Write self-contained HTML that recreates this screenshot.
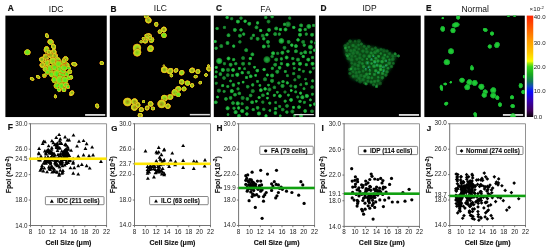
<!DOCTYPE html>
<html lang="en">
<head>
<meta charset="utf-8">
<title>Fpol of breast cell types</title>
<style>
html,body{margin:0;padding:0;background:#fff;}
body{width:550px;height:251px;overflow:hidden;font-family:"Liberation Sans",Arial,sans-serif;}
svg{display:block;}
</style>
</head>
<body>
<svg width="550" height="251" viewBox="0 0 550 251" font-family='"Liberation Sans", Arial, sans-serif'>
<defs>
<radialGradient id="gy">
<stop offset="0" stop-color="#7cd01c"/>
<stop offset="0.45" stop-color="#a4d41c"/>
<stop offset="0.72" stop-color="#ccd81c"/>
<stop offset="0.88" stop-color="#d08c10"/>
<stop offset="0.96" stop-color="#b85008" stop-opacity="0.8"/>
<stop offset="1" stop-color="#502000" stop-opacity="0"/>
</radialGradient>
<radialGradient id="gyg">
<stop offset="0" stop-color="#58ea1e"/>
<stop offset="0.55" stop-color="#86e01c"/>
<stop offset="0.8" stop-color="#c0c818"/>
<stop offset="0.92" stop-color="#d0800a" stop-opacity="0.9"/>
<stop offset="1" stop-color="#502000" stop-opacity="0"/>
</radialGradient>
<radialGradient id="gyy">
<stop offset="0" stop-color="#8aa416"/>
<stop offset="0.35" stop-color="#a0b81a"/>
<stop offset="0.62" stop-color="#d2da20"/>
<stop offset="0.8" stop-color="#d8bc1a"/>
<stop offset="0.92" stop-color="#c46a0c" stop-opacity="0.85"/>
<stop offset="1" stop-color="#402000" stop-opacity="0"/>
</radialGradient>
<filter id="soft" x="-5%" y="-5%" width="110%" height="110%"><feGaussianBlur stdDeviation="0.35"/></filter>
<filter id="soft2" x="-20%" y="-20%" width="140%" height="140%"><feGaussianBlur stdDeviation="1.6"/></filter>
<radialGradient id="gg">
<stop offset="0" stop-color="#22d238"/>
<stop offset="0.6" stop-color="#1cc030"/>
<stop offset="0.85" stop-color="#12902a" stop-opacity="0.9"/>
<stop offset="1" stop-color="#063010" stop-opacity="0"/>
</radialGradient>
<radialGradient id="gc">
<stop offset="0" stop-color="#34c66c"/>
<stop offset="0.4" stop-color="#22c03e"/>
<stop offset="0.7" stop-color="#169a2c" stop-opacity="0.92"/>
<stop offset="1" stop-color="#042808" stop-opacity="0"/>
</radialGradient>
<radialGradient id="gd">
<stop offset="0" stop-color="#30c450"/>
<stop offset="0.5" stop-color="#20a83a"/>
<stop offset="0.85" stop-color="#107826" stop-opacity="0.85"/>
<stop offset="1" stop-color="#042808" stop-opacity="0"/>
</radialGradient>
<radialGradient id="gdb">
<stop offset="0" stop-color="#18902c" stop-opacity="0.95"/>
<stop offset="0.7" stop-color="#127826" stop-opacity="0.8"/>
<stop offset="1" stop-color="#042808" stop-opacity="0"/>
</radialGradient>
<linearGradient id="cbar" x1="0" y1="0" x2="0" y2="1">
<stop offset="0" stop-color="#ff2200"/>
<stop offset="0.12" stop-color="#ff5a00"/>
<stop offset="0.25" stop-color="#ff9c00"/>
<stop offset="0.36" stop-color="#ffc400"/>
<stop offset="0.41" stop-color="#ffe000"/>
<stop offset="0.45" stop-color="#f8fc00"/>
<stop offset="0.475" stop-color="#90e40c"/>
<stop offset="0.505" stop-color="#34d418"/>
<stop offset="0.58" stop-color="#18a820"/>
<stop offset="0.65" stop-color="#107858"/>
<stop offset="0.70" stop-color="#1048c0"/>
<stop offset="0.75" stop-color="#0808ff"/>
<stop offset="0.84" stop-color="#3400b0"/>
<stop offset="0.93" stop-color="#400060"/>
<stop offset="1" stop-color="#080008"/>
</linearGradient>

<clipPath id="clipA"><rect x="5.4" y="15.6" width="101.35" height="101.45"/></clipPath>
<clipPath id="clipB"><rect x="109.8" y="15.6" width="100.90" height="101.45"/></clipPath>
<clipPath id="clipC"><rect x="213.8" y="15.6" width="101.65" height="101.45"/></clipPath>
<clipPath id="clipD"><rect x="319.0" y="15.6" width="101.75" height="101.45"/></clipPath>
<clipPath id="clipE"><rect x="424.35" y="15.6" width="100.45" height="101.45"/></clipPath>
</defs>
<rect width="550" height="251" fill="#ffffff"/>
<text x="7.8" y="11.15" font-size="8.3" font-weight="bold" fill="#111" stroke="#111" stroke-width="0.2">A</text>
<text x="110.6" y="11.6" font-size="8.3" font-weight="bold" fill="#111" stroke="#111" stroke-width="0.2">B</text>
<text x="216.1" y="10.75" font-size="8.3" font-weight="bold" fill="#111" stroke="#111" stroke-width="0.2">C</text>
<text x="320.6" y="10.9" font-size="8.3" font-weight="bold" fill="#111" stroke="#111" stroke-width="0.2">D</text>
<text x="426.0" y="11.25" font-size="8.3" font-weight="bold" fill="#111" stroke="#111" stroke-width="0.2">E</text>
<text x="56.1" y="11.55" font-size="8.5" text-anchor="middle" fill="#111" style="font-kerning:none">IDC</text>
<text x="160.4" y="10.6" font-size="8.5" text-anchor="middle" fill="#111" style="font-kerning:none">ILC</text>
<text x="265.6" y="11.6" font-size="8.5" text-anchor="middle" fill="#111" style="font-kerning:none">FA</text>
<text x="369.5" y="11.4" font-size="8.5" text-anchor="middle" fill="#111" style="font-kerning:none">IDP</text>
<text x="475.2" y="11.55" font-size="8.5" text-anchor="middle" fill="#111" style="font-kerning:none">Normal</text>
<rect x="5.4" y="15.6" width="101.35" height="101.45" fill="#000"/>
<g clip-path="url(#clipA)"><g filter="url(#soft)">
<ellipse cx="46.9" cy="35.7" rx="2.2" ry="3.0" fill="url(#gyy)" transform="rotate(-20 46.9 35.7)"/>
<ellipse cx="27.4" cy="52.3" rx="3.6" ry="3.4" fill="url(#gyg)"/>
<ellipse cx="50.6" cy="42.0" rx="3.6" ry="3.2" fill="url(#gy)" transform="rotate(20 50.6 42.0)"/>
<ellipse cx="53.5" cy="46.5" rx="2.8" ry="3.6" fill="url(#gyy)" transform="rotate(-20 53.5 46.5)"/>
<ellipse cx="46.5" cy="49.5" rx="3.2" ry="3.8" fill="url(#gy)" transform="rotate(10 46.5 49.5)"/>
<ellipse cx="52.7" cy="53.5" rx="4.2" ry="4.0" fill="url(#gy)"/>
<ellipse cx="45.6" cy="56.8" rx="3.4" ry="3.4" fill="url(#gyg)"/>
<ellipse cx="65.1" cy="58.5" rx="2.4" ry="3.2" fill="url(#gyy)" transform="rotate(25 65.1 58.5)"/>
<ellipse cx="74.3" cy="64.2" rx="3.6" ry="2.6" fill="url(#gyy)" transform="rotate(15 74.3 64.2)"/>
<ellipse cx="101.8" cy="63.1" rx="2.6" ry="2.4" fill="url(#gyy)" transform="rotate(20 101.8 63.1)"/>
<ellipse cx="32.1" cy="78.9" rx="2.8" ry="2.0" fill="url(#gyy)" transform="rotate(20 32.1 78.9)"/>
<ellipse cx="38.2" cy="76.9" rx="2.8" ry="2.0" fill="url(#gyy)" transform="rotate(30 38.2 76.9)"/>
<ellipse cx="44.4" cy="75.6" rx="2.6" ry="2.4" fill="url(#gyg)"/>
<ellipse cx="71.6" cy="93.2" rx="2.4" ry="3.6" fill="url(#gyy)" transform="rotate(25 71.6 93.2)"/>
<ellipse cx="55.3" cy="96.4" rx="1.9" ry="2.4" fill="url(#gyy)"/>
<ellipse cx="97.2" cy="106.0" rx="2.4" ry="3.0" fill="url(#gyy)" transform="rotate(-20 97.2 106.0)"/>
<circle cx="46.0" cy="57.0" r="3.1" fill="#86c41a"/>
<circle cx="50.9" cy="55.0" r="2.9" fill="#86c41a"/>
<circle cx="54.9" cy="56.0" r="2.7" fill="#86c41a"/>
<circle cx="47.0" cy="62.9" r="2.9" fill="#86c41a"/>
<circle cx="52.9" cy="61.0" r="3.3" fill="#86c41a"/>
<circle cx="57.9" cy="60.0" r="2.7" fill="#86c41a"/>
<circle cx="60.9" cy="63.9" r="2.7" fill="#86c41a"/>
<circle cx="65.9" cy="59.0" r="2.2" fill="#86c41a"/>
<circle cx="49.9" cy="68.9" r="3.1" fill="#86c41a"/>
<circle cx="54.9" cy="66.9" r="3.3" fill="#86c41a"/>
<circle cx="59.9" cy="68.9" r="2.9" fill="#86c41a"/>
<circle cx="64.9" cy="66.9" r="2.2" fill="#86c41a"/>
<circle cx="68.9" cy="67.9" r="1.8" fill="#86c41a"/>
<circle cx="51.9" cy="73.9" r="3.1" fill="#86c41a"/>
<circle cx="56.9" cy="73.9" r="3.6" fill="#86c41a"/>
<circle cx="61.9" cy="74.9" r="3.1" fill="#86c41a"/>
<circle cx="66.9" cy="73.9" r="2.2" fill="#86c41a"/>
<circle cx="54.9" cy="79.9" r="3.1" fill="#86c41a"/>
<circle cx="59.9" cy="79.9" r="3.6" fill="#86c41a"/>
<circle cx="64.9" cy="79.9" r="2.9" fill="#86c41a"/>
<circle cx="68.9" cy="77.9" r="2.0" fill="#86c41a"/>
<circle cx="56.9" cy="85.9" r="2.9" fill="#86c41a"/>
<circle cx="61.9" cy="85.9" r="3.1" fill="#86c41a"/>
<circle cx="65.9" cy="84.9" r="2.5" fill="#86c41a"/>
<circle cx="67.9" cy="86.9" r="1.8" fill="#86c41a"/>
<circle cx="58.9" cy="89.8" r="2.0" fill="#86c41a"/>
<circle cx="63.9" cy="89.8" r="2.0" fill="#86c41a"/>
<circle cx="71.9" cy="92.8" r="2.0" fill="#86c41a"/>
<circle cx="55.5" cy="96.8" r="1.3" fill="#86c41a"/>
<circle cx="44.4" cy="75.9" r="1.6" fill="#86c41a"/>
<circle cx="48.9" cy="52.0" r="2.2" fill="#86c41a"/>
<circle cx="53.9" cy="51.6" r="2.2" fill="#86c41a"/>
<circle cx="44.0" cy="60.0" r="2.2" fill="#86c41a"/>
<circle cx="62.9" cy="70.9" r="2.7" fill="#86c41a"/>
<circle cx="58.5" cy="63.9" r="2.9" fill="#86c41a"/>
<circle cx="41.8" cy="59.4" r="2.5" fill="#86c41a"/>
<circle cx="42.4" cy="64.9" r="2.7" fill="#86c41a"/>
<circle cx="45.2" cy="68.9" r="2.5" fill="#86c41a"/>
<circle cx="64.1" cy="60.8" r="2.5" fill="#86c41a"/>
<circle cx="66.9" cy="64.9" r="2.5" fill="#86c41a"/>
<circle cx="64.1" cy="67.5" r="2.7" fill="#86c41a"/>
<circle cx="69.7" cy="71.7" r="2.2" fill="#86c41a"/>
<circle cx="71.1" cy="77.3" r="2.0" fill="#86c41a"/>
<circle cx="47.4" cy="72.3" r="2.0" fill="#86c41a"/>
<ellipse cx="46.0" cy="57.0" rx="3.9" ry="3.8" fill="url(#gyy)" transform="rotate(101 46.0 57.0)"/>
<ellipse cx="50.9" cy="55.0" rx="3.7" ry="4.0" fill="url(#gyy)" transform="rotate(84 50.9 55.0)"/>
<ellipse cx="54.9" cy="56.0" rx="3.4" ry="3.3" fill="url(#gyy)" transform="rotate(106 54.9 56.0)"/>
<ellipse cx="47.0" cy="62.9" rx="3.7" ry="3.3" fill="url(#gy)" transform="rotate(92 47.0 62.9)"/>
<ellipse cx="52.9" cy="61.0" rx="4.2" ry="4.2" fill="url(#gy)" transform="rotate(143 52.9 61.0)"/>
<ellipse cx="57.9" cy="60.0" rx="3.4" ry="3.0" fill="url(#gy)" transform="rotate(55 57.9 60.0)"/>
<ellipse cx="60.9" cy="63.9" rx="3.4" ry="3.0" fill="url(#gyg)" transform="rotate(146 60.9 63.9)"/>
<ellipse cx="65.9" cy="59.0" rx="2.9" ry="3.0" fill="url(#gy)" transform="rotate(8 65.9 59.0)"/>
<ellipse cx="49.9" cy="68.9" rx="3.9" ry="4.3" fill="url(#gyg)" transform="rotate(174 49.9 68.9)"/>
<ellipse cx="54.9" cy="66.9" rx="4.2" ry="4.2" fill="url(#gyg)" transform="rotate(111 54.9 66.9)"/>
<ellipse cx="59.9" cy="68.9" rx="3.7" ry="3.3" fill="url(#gyg)" transform="rotate(3 59.9 68.9)"/>
<ellipse cx="64.9" cy="66.9" rx="2.9" ry="2.8" fill="url(#gyg)" transform="rotate(11 64.9 66.9)"/>
<ellipse cx="68.9" cy="67.9" rx="2.4" ry="2.1" fill="url(#gy)" transform="rotate(44 68.9 67.9)"/>
<ellipse cx="51.9" cy="73.9" rx="3.9" ry="3.4" fill="url(#gyg)" transform="rotate(84 51.9 73.9)"/>
<ellipse cx="56.9" cy="73.9" rx="4.4" ry="4.3" fill="url(#gyg)" transform="rotate(152 56.9 73.9)"/>
<ellipse cx="61.9" cy="74.9" rx="3.9" ry="3.8" fill="url(#gyg)" transform="rotate(115 61.9 74.9)"/>
<ellipse cx="66.9" cy="73.9" rx="2.9" ry="2.8" fill="url(#gyg)" transform="rotate(119 66.9 73.9)"/>
<ellipse cx="54.9" cy="79.9" rx="3.9" ry="3.8" fill="url(#gyg)" transform="rotate(50 54.9 79.9)"/>
<ellipse cx="59.9" cy="79.9" rx="4.4" ry="4.9" fill="url(#gyg)" transform="rotate(179 59.9 79.9)"/>
<ellipse cx="64.9" cy="79.9" rx="3.7" ry="3.9" fill="url(#gyg)" transform="rotate(127 64.9 79.9)"/>
<ellipse cx="68.9" cy="77.9" rx="2.6" ry="2.4" fill="url(#gyg)" transform="rotate(41 68.9 77.9)"/>
<ellipse cx="56.9" cy="85.9" rx="3.7" ry="3.4" fill="url(#gyg)" transform="rotate(13 56.9 85.9)"/>
<ellipse cx="61.9" cy="85.9" rx="3.9" ry="4.1" fill="url(#gyg)" transform="rotate(72 61.9 85.9)"/>
<ellipse cx="65.9" cy="84.9" rx="3.1" ry="3.3" fill="url(#gy)" transform="rotate(70 65.9 84.9)"/>
<ellipse cx="67.9" cy="86.9" rx="2.4" ry="2.6" fill="url(#gy)" transform="rotate(153 67.9 86.9)"/>
<ellipse cx="58.9" cy="89.8" rx="2.6" ry="2.2" fill="url(#gy)" transform="rotate(38 58.9 89.8)"/>
<ellipse cx="63.9" cy="89.8" rx="2.6" ry="2.8" fill="url(#gy)" transform="rotate(85 63.9 89.8)"/>
<ellipse cx="71.9" cy="92.8" rx="2.6" ry="2.9" fill="url(#gyy)" transform="rotate(72 71.9 92.8)"/>
<ellipse cx="55.5" cy="96.8" rx="1.9" ry="1.6" fill="url(#gyy)" transform="rotate(113 55.5 96.8)"/>
<ellipse cx="44.4" cy="75.9" rx="2.1" ry="2.2" fill="url(#gy)" transform="rotate(49 44.4 75.9)"/>
<ellipse cx="48.9" cy="52.0" rx="2.9" ry="2.5" fill="url(#gyy)" transform="rotate(60 48.9 52.0)"/>
<ellipse cx="53.9" cy="51.6" rx="2.9" ry="3.2" fill="url(#gyy)" transform="rotate(136 53.9 51.6)"/>
<ellipse cx="44.0" cy="60.0" rx="2.9" ry="2.5" fill="url(#gyy)" transform="rotate(44 44.0 60.0)"/>
<ellipse cx="62.9" cy="70.9" rx="3.4" ry="3.0" fill="url(#gyg)" transform="rotate(11 62.9 70.9)"/>
<ellipse cx="58.5" cy="63.9" rx="3.7" ry="3.8" fill="url(#gyg)" transform="rotate(32 58.5 63.9)"/>
<ellipse cx="41.8" cy="59.4" rx="3.1" ry="3.1" fill="url(#gyy)" transform="rotate(81 41.8 59.4)"/>
<ellipse cx="42.4" cy="64.9" rx="3.4" ry="3.1" fill="url(#gyy)" transform="rotate(132 42.4 64.9)"/>
<ellipse cx="45.2" cy="68.9" rx="3.1" ry="2.8" fill="url(#gy)" transform="rotate(116 45.2 68.9)"/>
<ellipse cx="64.1" cy="60.8" rx="3.1" ry="2.8" fill="url(#gy)" transform="rotate(76 64.1 60.8)"/>
<ellipse cx="66.9" cy="64.9" rx="3.1" ry="2.8" fill="url(#gy)" transform="rotate(49 66.9 64.9)"/>
<ellipse cx="64.1" cy="67.5" rx="3.4" ry="3.7" fill="url(#gyg)" transform="rotate(145 64.1 67.5)"/>
<ellipse cx="69.7" cy="71.7" rx="2.9" ry="2.7" fill="url(#gy)" transform="rotate(159 69.7 71.7)"/>
<ellipse cx="71.1" cy="77.3" rx="2.6" ry="2.4" fill="url(#gy)" transform="rotate(71 71.1 77.3)"/>
<ellipse cx="47.4" cy="72.3" rx="2.6" ry="2.8" fill="url(#gyg)" transform="rotate(116 47.4 72.3)"/>
<circle cx="62.4" cy="64.4" r="0.54" fill="#f0a010" opacity="0.8"/>
<circle cx="66.1" cy="66.4" r="0.48" fill="#e06808" opacity="0.8"/>
<circle cx="50.2" cy="72.9" r="0.58" fill="#d85a06" opacity="0.8"/>
<circle cx="45.2" cy="76.8" r="0.75" fill="#e88a0c" opacity="0.8"/>
<circle cx="63.8" cy="65.9" r="0.74" fill="#e88a0c" opacity="0.8"/>
<circle cx="61.6" cy="73.0" r="0.69" fill="#e88a0c" opacity="0.8"/>
<circle cx="68.9" cy="85.9" r="0.47" fill="#f0a010" opacity="0.8"/>
<circle cx="63.4" cy="64.6" r="0.71" fill="#e88a0c" opacity="0.8"/>
<circle cx="58.8" cy="91.7" r="0.55" fill="#f0a010" opacity="0.8"/>
<circle cx="66.8" cy="66.0" r="0.53" fill="#e88a0c" opacity="0.8"/>
<circle cx="40.6" cy="57.7" r="0.55" fill="#e06808" opacity="0.8"/>
<circle cx="51.9" cy="72.1" r="0.61" fill="#f0a010" opacity="0.8"/>
<circle cx="48.8" cy="63.5" r="0.48" fill="#e88a0c" opacity="0.8"/>
<circle cx="52.3" cy="67.0" r="0.66" fill="#e88a0c" opacity="0.8"/>
<circle cx="48.9" cy="55.3" r="0.79" fill="#d85a06" opacity="0.8"/>
<circle cx="49.6" cy="54.0" r="0.71" fill="#e06808" opacity="0.8"/>
<circle cx="69.6" cy="78.8" r="0.64" fill="#f0a010" opacity="0.8"/>
<circle cx="56.8" cy="54.6" r="0.73" fill="#e88a0c" opacity="0.8"/>
<circle cx="55.5" cy="87.8" r="0.75" fill="#e06808" opacity="0.8"/>
<circle cx="64.9" cy="89.5" r="0.65" fill="#f0a010" opacity="0.8"/>
<circle cx="66.0" cy="63.5" r="0.66" fill="#e06808" opacity="0.8"/>
<circle cx="59.2" cy="60.8" r="0.76" fill="#d85a06" opacity="0.8"/>
<circle cx="55.0" cy="87.5" r="0.60" fill="#f0a010" opacity="0.8"/>
<circle cx="60.7" cy="65.2" r="0.56" fill="#e06808" opacity="0.8"/>
<circle cx="56.2" cy="60.2" r="0.62" fill="#e06808" opacity="0.8"/>
<circle cx="65.9" cy="63.4" r="0.58" fill="#e06808" opacity="0.8"/>
<circle cx="54.0" cy="65.0" r="0.71" fill="#e88a0c" opacity="0.8"/>
<circle cx="55.8" cy="84.1" r="0.56" fill="#e88a0c" opacity="0.8"/>
<circle cx="71.0" cy="78.9" r="0.76" fill="#e88a0c" opacity="0.8"/>
<circle cx="68.2" cy="88.5" r="0.50" fill="#e88a0c" opacity="0.8"/>
<circle cx="52.7" cy="53.3" r="0.70" fill="#e06808" opacity="0.8"/>
<circle cx="55.7" cy="78.2" r="0.55" fill="#f0a010" opacity="0.8"/>
<circle cx="53.0" cy="72.0" r="0.69" fill="#f0a010" opacity="0.8"/>
<circle cx="65.5" cy="65.4" r="0.55" fill="#e06808" opacity="0.8"/>
<circle cx="66.1" cy="61.3" r="0.56" fill="#d85a06" opacity="0.8"/>
<circle cx="44.0" cy="65.1" r="0.52" fill="#f0a010" opacity="0.8"/>
<circle cx="55.1" cy="81.7" r="0.79" fill="#e06808" opacity="0.8"/>
<circle cx="64.2" cy="59.6" r="0.79" fill="#d85a06" opacity="0.8"/>
<circle cx="47.9" cy="74.0" r="0.51" fill="#d85a06" opacity="0.8"/>
<circle cx="46.0" cy="54.6" r="0.51" fill="#e06808" opacity="0.8"/>
<circle cx="55.4" cy="77.5" r="0.59" fill="#e88a0c" opacity="0.8"/>
<circle cx="59.8" cy="75.7" r="0.50" fill="#f0a010" opacity="0.8"/>
<circle cx="44.8" cy="77.3" r="0.58" fill="#e06808" opacity="0.8"/>
<circle cx="41.2" cy="63.3" r="0.61" fill="#d85a06" opacity="0.8"/>
<circle cx="70.9" cy="71.6" r="0.52" fill="#e06808" opacity="0.8"/>
<circle cx="69.6" cy="86.6" r="0.54" fill="#d85a06" opacity="0.8"/>
<circle cx="50.0" cy="56.3" r="0.57" fill="#f0a010" opacity="0.8"/>
<circle cx="64.1" cy="88.3" r="0.53" fill="#e06808" opacity="0.8"/>
<circle cx="59.9" cy="68.9" r="0.71" fill="#3cf020" opacity="0.8"/>
<circle cx="67.9" cy="68.1" r="0.86" fill="#3cf020" opacity="0.8"/>
<circle cx="68.2" cy="86.3" r="0.88" fill="#3cf020" opacity="0.8"/>
<circle cx="65.1" cy="84.4" r="0.80" fill="#3cf020" opacity="0.8"/>
<circle cx="61.4" cy="85.8" r="0.79" fill="#3cf020" opacity="0.8"/>
<circle cx="50.5" cy="73.7" r="0.72" fill="#3cf020" opacity="0.8"/>
<circle cx="54.2" cy="78.5" r="0.85" fill="#3cf020" opacity="0.8"/>
<circle cx="56.8" cy="74.2" r="0.72" fill="#3cf020" opacity="0.8"/>
<circle cx="66.7" cy="73.8" r="0.71" fill="#3cf020" opacity="0.8"/>
<circle cx="68.2" cy="86.9" r="0.72" fill="#3cf020" opacity="0.8"/>
<circle cx="54.2" cy="66.9" r="0.82" fill="#3cf020" opacity="0.8"/>
<circle cx="64.0" cy="89.9" r="0.57" fill="#3cf020" opacity="0.8"/>
<circle cx="57.9" cy="90.1" r="0.82" fill="#3cf020" opacity="0.8"/>
<circle cx="68.8" cy="78.4" r="0.55" fill="#3cf020" opacity="0.8"/>
<circle cx="58.1" cy="85.0" r="0.87" fill="#3cf020" opacity="0.8"/>
<circle cx="67.8" cy="87.0" r="0.75" fill="#3cf020" opacity="0.8"/>
<circle cx="67.5" cy="74.6" r="0.51" fill="#3cf020" opacity="0.8"/>
<circle cx="56.9" cy="73.9" r="0.61" fill="#3cf020" opacity="0.8"/>
<circle cx="64.9" cy="80.7" r="0.70" fill="#3cf020" opacity="0.8"/>
<circle cx="64.3" cy="90.2" r="0.60" fill="#3cf020" opacity="0.8"/>
<circle cx="56.4" cy="72.3" r="0.51" fill="#3cf020" opacity="0.8"/>
<circle cx="57.3" cy="85.0" r="0.72" fill="#3cf020" opacity="0.8"/>
<circle cx="58.5" cy="89.4" r="0.84" fill="#3cf020" opacity="0.8"/>
<circle cx="64.0" cy="89.6" r="0.80" fill="#3cf020" opacity="0.8"/>
<circle cx="65.3" cy="79.6" r="0.63" fill="#3cf020" opacity="0.8"/>
<circle cx="57.3" cy="75.8" r="0.86" fill="#3cf020" opacity="0.8"/>
<circle cx="69.0" cy="67.8" r="0.54" fill="#3cf020" opacity="0.8"/>
<circle cx="69.6" cy="78.4" r="0.67" fill="#3cf020" opacity="0.8"/>
<circle cx="69.0" cy="68.5" r="0.82" fill="#3cf020" opacity="0.8"/>
<circle cx="65.1" cy="67.7" r="0.86" fill="#3cf020" opacity="0.8"/>
</g>
<rect x="85.1" y="114.0" width="20.1" height="1.85" fill="#d8d8d8"/>
</g>
<rect x="109.8" y="15.6" width="100.90" height="101.45" fill="#000"/>
<g clip-path="url(#clipB)"><g filter="url(#soft)">
<ellipse cx="148.4" cy="20.2" rx="3.6" ry="3.7" fill="url(#gyy)" transform="rotate(134 148.4 20.2)"/>
<ellipse cx="146.3" cy="16.0" rx="2.9" ry="3.0" fill="url(#gyy)" transform="rotate(133 146.3 16.0)"/>
<ellipse cx="156.3" cy="24.3" rx="2.9" ry="2.5" fill="url(#gyy)" transform="rotate(84 156.3 24.3)"/>
<ellipse cx="163.9" cy="29.5" rx="3.2" ry="3.3" fill="url(#gyy)" transform="rotate(162 163.9 29.5)"/>
<circle cx="163.9" cy="29.1" r="0.72" fill="#d05a0a" opacity="0.6"/>
<ellipse cx="159.8" cy="31.6" rx="2.6" ry="2.6" fill="url(#gyy)" transform="rotate(2 159.8 31.6)"/>
<ellipse cx="163.9" cy="35.3" rx="3.2" ry="3.0" fill="url(#gyg)" transform="rotate(50 163.9 35.3)"/>
<ellipse cx="148.4" cy="36.8" rx="4.0" ry="4.2" fill="url(#gyy)" transform="rotate(29 148.4 36.8)"/>
<ellipse cx="151.5" cy="39.9" rx="3.5" ry="3.1" fill="url(#gy)" transform="rotate(111 151.5 39.9)"/>
<circle cx="150.7" cy="40.5" r="0.58" fill="#d05a0a" opacity="0.6"/>
<ellipse cx="145.3" cy="40.9" rx="3.2" ry="3.0" fill="url(#gyy)" transform="rotate(177 145.3 40.9)"/>
<ellipse cx="141.1" cy="41.8" rx="2.0" ry="1.9" fill="url(#gyy)" transform="rotate(173 141.1 41.8)"/>
<ellipse cx="137.0" cy="48.0" rx="4.7" ry="4.6" fill="url(#gy)" transform="rotate(122 137.0 48.0)"/>
<circle cx="137.7" cy="48.3" r="0.89" fill="#d05a0a" opacity="0.6"/>
<ellipse cx="137.3" cy="52.6" rx="4.2" ry="4.5" fill="url(#gy)" transform="rotate(54 137.3 52.6)"/>
<circle cx="136.8" cy="52.0" r="0.53" fill="#d05a0a" opacity="0.6"/>
<ellipse cx="150.5" cy="48.6" rx="3.9" ry="3.6" fill="url(#gy)" transform="rotate(109 150.5 48.6)"/>
<circle cx="150.8" cy="48.3" r="0.62" fill="#d05a0a" opacity="0.6"/>
<ellipse cx="163.9" cy="65.8" rx="1.6" ry="1.6" fill="url(#gyy)" transform="rotate(87 163.9 65.8)"/>
<ellipse cx="208.5" cy="65.8" rx="1.8" ry="1.7" fill="url(#gyy)" transform="rotate(87 208.5 65.8)"/>
<ellipse cx="164.4" cy="69.7" rx="3.9" ry="3.9" fill="url(#gyy)" transform="rotate(10 164.4 69.7)"/>
<ellipse cx="170.2" cy="71.1" rx="3.9" ry="3.4" fill="url(#gyy)" transform="rotate(135 170.2 71.1)"/>
<ellipse cx="176.0" cy="70.4" rx="2.9" ry="2.5" fill="url(#gyy)" transform="rotate(142 176.0 70.4)"/>
<circle cx="176.1" cy="69.6" r="0.52" fill="#d05a0a" opacity="0.6"/>
<ellipse cx="171.4" cy="75.7" rx="2.2" ry="2.1" fill="url(#gyy)" transform="rotate(172 171.4 75.7)"/>
<ellipse cx="181.7" cy="72.7" rx="3.2" ry="3.0" fill="url(#gy)" transform="rotate(136 181.7 72.7)"/>
<ellipse cx="192.1" cy="70.4" rx="3.2" ry="3.5" fill="url(#gyy)" transform="rotate(62 192.1 70.4)"/>
<circle cx="192.1" cy="70.8" r="0.54" fill="#d05a0a" opacity="0.6"/>
<ellipse cx="197.9" cy="71.5" rx="2.9" ry="2.9" fill="url(#gyy)" transform="rotate(144 197.9 71.5)"/>
<ellipse cx="195.6" cy="76.6" rx="2.5" ry="2.2" fill="url(#gyy)" transform="rotate(170 195.6 76.6)"/>
<ellipse cx="208.8" cy="68.8" rx="3.2" ry="2.9" fill="url(#gyy)" transform="rotate(61 208.8 68.8)"/>
<circle cx="209.5" cy="68.5" r="0.87" fill="#d05a0a" opacity="0.6"/>
<ellipse cx="206.0" cy="75.0" rx="2.2" ry="2.2" fill="url(#gyy)" transform="rotate(56 206.0 75.0)"/>
<ellipse cx="181.7" cy="81.9" rx="3.2" ry="3.1" fill="url(#gy)" transform="rotate(32 181.7 81.9)"/>
<circle cx="181.1" cy="82.2" r="0.90" fill="#d05a0a" opacity="0.6"/>
<ellipse cx="187.5" cy="83.1" rx="3.2" ry="3.0" fill="url(#gy)" transform="rotate(9 187.5 83.1)"/>
<ellipse cx="192.1" cy="85.4" rx="2.6" ry="2.6" fill="url(#gyy)" transform="rotate(73 192.1 85.4)"/>
<ellipse cx="200.2" cy="82.6" rx="2.2" ry="2.1" fill="url(#gyy)" transform="rotate(107 200.2 82.6)"/>
<ellipse cx="178.3" cy="88.9" rx="3.2" ry="3.4" fill="url(#gy)" transform="rotate(82 178.3 88.9)"/>
<circle cx="177.6" cy="89.6" r="0.51" fill="#d05a0a" opacity="0.6"/>
<ellipse cx="184.0" cy="88.9" rx="2.9" ry="2.8" fill="url(#gy)" transform="rotate(151 184.0 88.9)"/>
<circle cx="184.4" cy="89.6" r="0.75" fill="#d05a0a" opacity="0.6"/>
<ellipse cx="174.8" cy="92.3" rx="3.6" ry="3.8" fill="url(#gy)" transform="rotate(19 174.8 92.3)"/>
<circle cx="174.2" cy="92.9" r="0.62" fill="#d05a0a" opacity="0.6"/>
<ellipse cx="178.3" cy="94.6" rx="2.9" ry="2.8" fill="url(#gyg)" transform="rotate(180 178.3 94.6)"/>
<ellipse cx="170.2" cy="97.0" rx="3.2" ry="3.5" fill="url(#gy)" transform="rotate(82 170.2 97.0)"/>
<circle cx="170.6" cy="97.0" r="0.62" fill="#d05a0a" opacity="0.6"/>
<ellipse cx="164.4" cy="98.1" rx="3.9" ry="3.7" fill="url(#gy)" transform="rotate(26 164.4 98.1)"/>
<circle cx="165.2" cy="98.8" r="0.75" fill="#d05a0a" opacity="0.6"/>
<ellipse cx="161.7" cy="103.9" rx="4.8" ry="4.8" fill="url(#gyy)" transform="rotate(61 161.7 103.9)"/>
<circle cx="161.3" cy="104.4" r="0.85" fill="#d05a0a" opacity="0.6"/>
<ellipse cx="167.9" cy="106.2" rx="3.2" ry="3.1" fill="url(#gyy)" transform="rotate(141 167.9 106.2)"/>
<ellipse cx="150.6" cy="103.9" rx="3.2" ry="3.3" fill="url(#gyy)" transform="rotate(120 150.6 103.9)"/>
<ellipse cx="147.1" cy="108.0" rx="2.9" ry="2.7" fill="url(#gyy)" transform="rotate(127 147.1 108.0)"/>
<circle cx="147.1" cy="108.4" r="0.78" fill="#d05a0a" opacity="0.6"/>
<ellipse cx="152.9" cy="108.5" rx="2.5" ry="2.3" fill="url(#gyy)" transform="rotate(170 152.9 108.5)"/>
<ellipse cx="127.5" cy="102.0" rx="4.8" ry="4.9" fill="url(#gyy)" transform="rotate(105 127.5 102.0)"/>
<circle cx="127.6" cy="101.6" r="0.77" fill="#d05a0a" opacity="0.6"/>
<ellipse cx="134.4" cy="101.6" rx="3.9" ry="3.7" fill="url(#gyy)" transform="rotate(147 134.4 101.6)"/>
<circle cx="134.9" cy="101.4" r="0.76" fill="#d05a0a" opacity="0.6"/>
<ellipse cx="134.4" cy="107.3" rx="3.9" ry="4.0" fill="url(#gyy)" transform="rotate(149 134.4 107.3)"/>
<circle cx="134.9" cy="107.9" r="0.78" fill="#d05a0a" opacity="0.6"/>
<ellipse cx="137.9" cy="105.0" rx="3.0" ry="3.3" fill="url(#gyy)" transform="rotate(172 137.9 105.0)"/>
<circle cx="137.9" cy="104.5" r="0.83" fill="#d05a0a" opacity="0.6"/>
<ellipse cx="141.3" cy="109.7" rx="2.9" ry="3.0" fill="url(#gyy)" transform="rotate(86 141.3 109.7)"/>
<circle cx="141.7" cy="110.1" r="0.57" fill="#d05a0a" opacity="0.6"/>
<ellipse cx="140.2" cy="115.4" rx="2.9" ry="3.0" fill="url(#gyy)" transform="rotate(105 140.2 115.4)"/>
<circle cx="140.1" cy="115.6" r="0.81" fill="#d05a0a" opacity="0.6"/>
<ellipse cx="143.6" cy="101.6" rx="1.9" ry="1.9" fill="url(#gyy)" transform="rotate(130 143.6 101.6)"/>
<ellipse cx="146.9" cy="35.9" rx="2.9" ry="2.5" fill="url(#gy)" transform="rotate(29 146.9 35.9)"/>
<circle cx="147.1" cy="35.5" r="0.77" fill="#d05a0a" opacity="0.6"/>
<ellipse cx="150.2" cy="38.0" rx="2.6" ry="2.7" fill="url(#gyy)" transform="rotate(8 150.2 38.0)"/>
<ellipse cx="143.5" cy="38.8" rx="2.2" ry="2.2" fill="url(#gyy)" transform="rotate(41 143.5 38.8)"/>
</g>
<rect x="189.8" y="113.9" width="20.1" height="1.5" fill="#d8d8d8"/>
</g>
<rect x="213.8" y="15.6" width="101.65" height="101.45" fill="#000"/>
<g clip-path="url(#clipC)"><g filter="url(#soft)">
<ellipse cx="227.1" cy="17.5" rx="2.2" ry="2.2" fill="url(#gc)" opacity="0.96"/>
<ellipse cx="231.7" cy="18.7" rx="2.2" ry="2.2" fill="url(#gc)" opacity="0.68"/>
<ellipse cx="241.0" cy="18.1" rx="2.2" ry="2.2" fill="url(#gc)" opacity="0.73"/>
<ellipse cx="265.8" cy="17.5" rx="2.2" ry="2.2" fill="url(#gc)" opacity="0.78"/>
<ellipse cx="289.7" cy="18.1" rx="2.2" ry="2.2" fill="url(#gc)" opacity="0.66"/>
<ellipse cx="272.1" cy="16.7" rx="2.2" ry="2.2" fill="url(#gc)" opacity="0.81"/>
<ellipse cx="237.9" cy="21.6" rx="2.5" ry="2.5" fill="url(#gc)" opacity="0.94"/>
<ellipse cx="245.1" cy="21.2" rx="2.2" ry="2.2" fill="url(#gc)" opacity="0.98"/>
<ellipse cx="249.3" cy="23.7" rx="2.5" ry="2.5" fill="url(#gc)" opacity="0.88"/>
<ellipse cx="257.6" cy="22.9" rx="2.2" ry="2.2" fill="url(#gc)" opacity="0.90"/>
<ellipse cx="268.5" cy="21.6" rx="2.5" ry="2.5" fill="url(#gc)" opacity="0.67"/>
<ellipse cx="288.0" cy="24.3" rx="3.5" ry="3.5" fill="url(#gc)" opacity="0.69"/>
<ellipse cx="284.5" cy="24.3" rx="2.2" ry="2.2" fill="url(#gc)" opacity="0.82"/>
<ellipse cx="301.1" cy="25.4" rx="2.5" ry="2.5" fill="url(#gc)" opacity="0.82"/>
<ellipse cx="308.8" cy="26.4" rx="3.0" ry="3.0" fill="url(#gc)" opacity="0.87"/>
<ellipse cx="313.5" cy="25.4" rx="2.2" ry="2.2" fill="url(#gc)" opacity="0.77"/>
<ellipse cx="217.1" cy="28.5" rx="2.2" ry="2.2" fill="url(#gc)" opacity="0.86"/>
<ellipse cx="224.4" cy="27.4" rx="2.2" ry="2.2" fill="url(#gc)" opacity="0.69"/>
<ellipse cx="234.8" cy="29.9" rx="2.5" ry="2.5" fill="url(#gc)" opacity="0.86"/>
<ellipse cx="241.0" cy="29.9" rx="2.2" ry="2.2" fill="url(#gc)" opacity="0.87"/>
<ellipse cx="256.5" cy="27.4" rx="2.5" ry="2.5" fill="url(#gc)" opacity="0.78"/>
<ellipse cx="260.7" cy="30.5" rx="2.2" ry="2.2" fill="url(#gc)" opacity="0.98"/>
<ellipse cx="269.0" cy="29.9" rx="2.5" ry="2.5" fill="url(#gc)" opacity="0.89"/>
<ellipse cx="276.2" cy="28.5" rx="2.5" ry="2.5" fill="url(#gc)" opacity="0.85"/>
<ellipse cx="280.4" cy="29.5" rx="2.2" ry="2.2" fill="url(#gc)" opacity="0.95"/>
<ellipse cx="285.5" cy="29.5" rx="2.5" ry="2.5" fill="url(#gc)" opacity="0.90"/>
<ellipse cx="293.8" cy="27.4" rx="2.2" ry="2.2" fill="url(#gc)" opacity="0.95"/>
<ellipse cx="300.0" cy="29.9" rx="2.5" ry="2.5" fill="url(#gc)" opacity="0.96"/>
<ellipse cx="305.2" cy="29.5" rx="2.2" ry="2.2" fill="url(#gc)" opacity="0.82"/>
<ellipse cx="228.5" cy="35.3" rx="2.5" ry="2.5" fill="url(#gc)" opacity="0.84"/>
<ellipse cx="239.9" cy="35.7" rx="2.5" ry="2.5" fill="url(#gc)" opacity="0.78"/>
<ellipse cx="243.7" cy="34.1" rx="2.2" ry="2.2" fill="url(#gc)" opacity="0.84"/>
<ellipse cx="253.4" cy="35.3" rx="2.2" ry="2.2" fill="url(#gc)" opacity="0.81"/>
<ellipse cx="262.7" cy="35.7" rx="2.5" ry="2.5" fill="url(#gc)" opacity="0.68"/>
<ellipse cx="266.9" cy="34.7" rx="2.2" ry="2.2" fill="url(#gc)" opacity="0.99"/>
<ellipse cx="275.2" cy="34.1" rx="2.5" ry="2.5" fill="url(#gc)" opacity="0.76"/>
<ellipse cx="279.3" cy="34.1" rx="2.2" ry="2.2" fill="url(#gc)" opacity="0.76"/>
<ellipse cx="300.0" cy="34.7" rx="2.5" ry="2.5" fill="url(#gc)" opacity="0.95"/>
<ellipse cx="306.3" cy="34.1" rx="2.2" ry="2.2" fill="url(#gc)" opacity="0.76"/>
<ellipse cx="312.1" cy="34.7" rx="2.5" ry="2.5" fill="url(#gc)" opacity="0.86"/>
<ellipse cx="251.3" cy="38.2" rx="2.2" ry="2.2" fill="url(#gc)" opacity="0.70"/>
<ellipse cx="257.6" cy="38.8" rx="2.5" ry="2.5" fill="url(#gc)" opacity="0.78"/>
<ellipse cx="263.8" cy="38.8" rx="2.2" ry="2.2" fill="url(#gc)" opacity="0.86"/>
<ellipse cx="215.1" cy="41.5" rx="2.2" ry="2.2" fill="url(#gc)" opacity="0.94"/>
<ellipse cx="227.5" cy="43.0" rx="2.5" ry="2.5" fill="url(#gc)" opacity="0.83"/>
<ellipse cx="239.9" cy="41.9" rx="2.2" ry="2.2" fill="url(#gc)" opacity="0.69"/>
<ellipse cx="267.9" cy="41.9" rx="2.5" ry="2.5" fill="url(#gc)" opacity="0.83"/>
<ellipse cx="281.4" cy="40.9" rx="3.5" ry="3.5" fill="url(#gc)" opacity="0.93"/>
<ellipse cx="288.6" cy="41.9" rx="2.5" ry="2.5" fill="url(#gc)" opacity="0.74"/>
<ellipse cx="298.0" cy="39.9" rx="2.2" ry="2.2" fill="url(#gc)" opacity="0.94"/>
<ellipse cx="303.2" cy="41.9" rx="2.5" ry="2.5" fill="url(#gc)" opacity="0.68"/>
<ellipse cx="311.4" cy="41.9" rx="2.2" ry="2.2" fill="url(#gc)" opacity="0.85"/>
<ellipse cx="315.6" cy="43.0" rx="2.2" ry="2.2" fill="url(#gc)" opacity="0.78"/>
<ellipse cx="221.3" cy="46.1" rx="2.5" ry="2.5" fill="url(#gc)" opacity="0.72"/>
<ellipse cx="233.7" cy="46.1" rx="2.2" ry="2.2" fill="url(#gc)" opacity="0.91"/>
<ellipse cx="263.8" cy="46.5" rx="2.5" ry="2.5" fill="url(#gc)" opacity="0.92"/>
<ellipse cx="268.5" cy="46.1" rx="2.2" ry="2.2" fill="url(#gc)" opacity="0.72"/>
<ellipse cx="284.5" cy="47.7" rx="2.5" ry="2.5" fill="url(#gc)" opacity="0.70"/>
<ellipse cx="291.8" cy="45.1" rx="2.2" ry="2.2" fill="url(#gc)" opacity="0.98"/>
<ellipse cx="295.9" cy="46.1" rx="2.5" ry="2.5" fill="url(#gc)" opacity="0.92"/>
<ellipse cx="304.2" cy="45.1" rx="2.2" ry="2.2" fill="url(#gc)" opacity="0.83"/>
<ellipse cx="310.4" cy="47.1" rx="3.0" ry="3.0" fill="url(#gc)" opacity="0.91"/>
<ellipse cx="216.1" cy="48.2" rx="2.2" ry="2.2" fill="url(#gc)" opacity="0.85"/>
<ellipse cx="246.2" cy="50.2" rx="2.5" ry="2.5" fill="url(#gc)" opacity="0.79"/>
<ellipse cx="252.4" cy="54.4" rx="2.5" ry="2.5" fill="url(#gc)" opacity="0.86"/>
<ellipse cx="273.1" cy="53.3" rx="2.5" ry="2.5" fill="url(#gc)" opacity="0.98"/>
<ellipse cx="277.7" cy="53.3" rx="2.2" ry="2.2" fill="url(#gc)" opacity="0.67"/>
<ellipse cx="282.4" cy="52.7" rx="2.5" ry="2.5" fill="url(#gc)" opacity="0.89"/>
<ellipse cx="288.0" cy="51.3" rx="2.2" ry="2.2" fill="url(#gc)" opacity="0.84"/>
<ellipse cx="295.9" cy="51.3" rx="2.5" ry="2.5" fill="url(#gc)" opacity="0.82"/>
<ellipse cx="301.1" cy="53.3" rx="2.2" ry="2.2" fill="url(#gc)" opacity="0.80"/>
<ellipse cx="305.2" cy="52.3" rx="2.5" ry="2.5" fill="url(#gc)" opacity="0.86"/>
<ellipse cx="310.4" cy="52.3" rx="2.2" ry="2.2" fill="url(#gc)" opacity="0.78"/>
<ellipse cx="314.6" cy="50.2" rx="2.2" ry="2.2" fill="url(#gc)" opacity="0.91"/>
<ellipse cx="219.2" cy="61.0" rx="3.8" ry="3.8" fill="url(#gc)" opacity="0.95"/>
<ellipse cx="228.5" cy="58.5" rx="2.5" ry="2.5" fill="url(#gc)" opacity="0.96"/>
<ellipse cx="233.7" cy="59.6" rx="2.2" ry="2.2" fill="url(#gc)" opacity="0.85"/>
<ellipse cx="243.1" cy="58.1" rx="2.5" ry="2.5" fill="url(#gc)" opacity="0.68"/>
<ellipse cx="250.3" cy="58.5" rx="2.2" ry="2.2" fill="url(#gc)" opacity="0.98"/>
<ellipse cx="266.9" cy="59.6" rx="4.2" ry="4.2" fill="url(#gc)" opacity="0.79"/>
<ellipse cx="272.1" cy="56.5" rx="2.2" ry="2.2" fill="url(#gc)" opacity="0.72"/>
<ellipse cx="276.2" cy="59.6" rx="2.5" ry="2.5" fill="url(#gc)" opacity="0.73"/>
<ellipse cx="281.4" cy="58.9" rx="2.2" ry="2.2" fill="url(#gc)" opacity="0.82"/>
<ellipse cx="286.6" cy="57.5" rx="2.5" ry="2.5" fill="url(#gc)" opacity="0.92"/>
<ellipse cx="292.8" cy="58.5" rx="2.2" ry="2.2" fill="url(#gc)" opacity="0.78"/>
<ellipse cx="298.0" cy="59.6" rx="2.5" ry="2.5" fill="url(#gc)" opacity="0.78"/>
<ellipse cx="303.2" cy="56.5" rx="2.2" ry="2.2" fill="url(#gc)" opacity="0.94"/>
<ellipse cx="308.3" cy="59.6" rx="2.5" ry="2.5" fill="url(#gc)" opacity="0.92"/>
<ellipse cx="312.5" cy="57.5" rx="2.2" ry="2.2" fill="url(#gc)" opacity="0.77"/>
<ellipse cx="224.4" cy="63.7" rx="2.2" ry="2.2" fill="url(#gc)" opacity="0.69"/>
<ellipse cx="230.6" cy="64.7" rx="2.5" ry="2.5" fill="url(#gc)" opacity="0.83"/>
<ellipse cx="235.8" cy="63.7" rx="2.2" ry="2.2" fill="url(#gc)" opacity="0.81"/>
<ellipse cx="243.1" cy="63.7" rx="2.5" ry="2.5" fill="url(#gc)" opacity="0.74"/>
<ellipse cx="249.3" cy="63.7" rx="2.2" ry="2.2" fill="url(#gc)" opacity="0.76"/>
<ellipse cx="275.2" cy="64.7" rx="2.5" ry="2.5" fill="url(#gc)" opacity="0.78"/>
<ellipse cx="281.4" cy="63.7" rx="2.2" ry="2.2" fill="url(#gc)" opacity="0.80"/>
<ellipse cx="287.6" cy="64.7" rx="2.5" ry="2.5" fill="url(#gc)" opacity="0.99"/>
<ellipse cx="293.8" cy="63.7" rx="2.2" ry="2.2" fill="url(#gc)" opacity="0.88"/>
<ellipse cx="300.0" cy="63.7" rx="2.5" ry="2.5" fill="url(#gc)" opacity="0.97"/>
<ellipse cx="306.3" cy="64.7" rx="2.2" ry="2.2" fill="url(#gc)" opacity="0.86"/>
<ellipse cx="312.5" cy="63.7" rx="2.5" ry="2.5" fill="url(#gc)" opacity="0.99"/>
<ellipse cx="239.3" cy="93.4" rx="2.4" ry="2.4" fill="url(#gc)" opacity="0.78"/>
<ellipse cx="262.9" cy="95.3" rx="2.4" ry="2.4" fill="url(#gc)" opacity="0.74"/>
<ellipse cx="238.9" cy="115.8" rx="2.4" ry="2.4" fill="url(#gc)" opacity="0.91"/>
<ellipse cx="230.6" cy="97.9" rx="2.4" ry="2.4" fill="url(#gc)" opacity="0.79"/>
<ellipse cx="254.5" cy="67.2" rx="1.9" ry="1.9" fill="url(#gc)" opacity="0.89"/>
<ellipse cx="293.5" cy="107.3" rx="2.1" ry="2.1" fill="url(#gc)" opacity="0.97"/>
<ellipse cx="262.8" cy="102.1" rx="2.2" ry="2.2" fill="url(#gc)" opacity="0.66"/>
<ellipse cx="286.9" cy="112.1" rx="2.2" ry="2.2" fill="url(#gc)" opacity="0.80"/>
<ellipse cx="288.3" cy="95.1" rx="2.0" ry="2.0" fill="url(#gc)" opacity="0.84"/>
<ellipse cx="303.4" cy="71.3" rx="2.0" ry="2.0" fill="url(#gc)" opacity="0.69"/>
<ellipse cx="265.0" cy="79.3" rx="2.6" ry="2.6" fill="url(#gc)" opacity="0.69"/>
<ellipse cx="259.1" cy="97.5" rx="2.1" ry="2.1" fill="url(#gc)" opacity="0.94"/>
<ellipse cx="257.6" cy="107.8" rx="2.4" ry="2.4" fill="url(#gc)" opacity="0.82"/>
<ellipse cx="250.6" cy="95.5" rx="2.4" ry="2.4" fill="url(#gc)" opacity="0.74"/>
<ellipse cx="238.7" cy="83.2" rx="1.9" ry="1.9" fill="url(#gc)" opacity="0.86"/>
<ellipse cx="301.1" cy="115.6" rx="2.6" ry="2.6" fill="url(#gc)" opacity="0.93"/>
<ellipse cx="285.1" cy="101.1" rx="2.1" ry="2.1" fill="url(#gc)" opacity="0.85"/>
<ellipse cx="312.0" cy="111.3" rx="2.4" ry="2.4" fill="url(#gc)" opacity="0.68"/>
<ellipse cx="225.9" cy="98.9" rx="2.4" ry="2.4" fill="url(#gc)" opacity="0.82"/>
<ellipse cx="242.2" cy="72.7" rx="2.2" ry="2.2" fill="url(#gc)" opacity="0.93"/>
<ellipse cx="230.6" cy="81.0" rx="1.9" ry="1.9" fill="url(#gc)" opacity="0.82"/>
<ellipse cx="287.3" cy="82.9" rx="2.1" ry="2.1" fill="url(#gc)" opacity="0.91"/>
<ellipse cx="266.0" cy="115.9" rx="2.1" ry="2.1" fill="url(#gc)" opacity="0.99"/>
<ellipse cx="216.2" cy="71.9" rx="2.0" ry="2.0" fill="url(#gc)" opacity="0.83"/>
<ellipse cx="312.6" cy="80.9" rx="2.1" ry="2.1" fill="url(#gc)" opacity="0.86"/>
<ellipse cx="246.9" cy="114.0" rx="2.2" ry="2.2" fill="url(#gc)" opacity="0.90"/>
<ellipse cx="253.2" cy="109.6" rx="2.2" ry="2.2" fill="url(#gc)" opacity="0.82"/>
<ellipse cx="279.9" cy="96.0" rx="2.4" ry="2.4" fill="url(#gc)" opacity="0.95"/>
<ellipse cx="242.6" cy="97.9" rx="2.6" ry="2.6" fill="url(#gc)" opacity="0.66"/>
<ellipse cx="267.6" cy="93.6" rx="1.9" ry="1.9" fill="url(#gc)" opacity="0.96"/>
<ellipse cx="294.3" cy="115.4" rx="2.1" ry="2.1" fill="url(#gc)" opacity="0.73"/>
<ellipse cx="217.5" cy="97.0" rx="1.9" ry="1.9" fill="url(#gc)" opacity="0.98"/>
<ellipse cx="278.9" cy="83.0" rx="2.1" ry="2.1" fill="url(#gc)" opacity="0.78"/>
<ellipse cx="246.5" cy="77.5" rx="2.1" ry="2.1" fill="url(#gc)" opacity="0.87"/>
<ellipse cx="285.3" cy="71.5" rx="2.1" ry="2.1" fill="url(#gc)" opacity="0.81"/>
<ellipse cx="310.4" cy="99.9" rx="2.0" ry="2.0" fill="url(#gc)" opacity="0.85"/>
<ellipse cx="304.0" cy="88.8" rx="2.0" ry="2.0" fill="url(#gc)" opacity="0.76"/>
<ellipse cx="294.2" cy="68.2" rx="2.0" ry="2.0" fill="url(#gc)" opacity="0.75"/>
<ellipse cx="247.0" cy="107.9" rx="2.4" ry="2.4" fill="url(#gc)" opacity="0.78"/>
<ellipse cx="279.7" cy="106.4" rx="2.1" ry="2.1" fill="url(#gc)" opacity="0.72"/>
<ellipse cx="274.4" cy="87.4" rx="2.4" ry="2.4" fill="url(#gc)" opacity="0.71"/>
<ellipse cx="294.9" cy="79.9" rx="2.1" ry="2.1" fill="url(#gc)" opacity="0.65"/>
<ellipse cx="272.3" cy="68.3" rx="2.2" ry="2.2" fill="url(#gc)" opacity="0.79"/>
<ellipse cx="258.9" cy="113.5" rx="2.6" ry="2.6" fill="url(#gc)" opacity="0.93"/>
<ellipse cx="237.7" cy="103.4" rx="2.6" ry="2.6" fill="url(#gc)" opacity="0.94"/>
<ellipse cx="269.9" cy="110.5" rx="1.9" ry="1.9" fill="url(#gc)" opacity="0.86"/>
<ellipse cx="295.8" cy="91.9" rx="2.0" ry="2.0" fill="url(#gc)" opacity="0.79"/>
<ellipse cx="305.2" cy="111.0" rx="2.4" ry="2.4" fill="url(#gc)" opacity="0.93"/>
<ellipse cx="228.0" cy="114.6" rx="1.9" ry="1.9" fill="url(#gc)" opacity="0.73"/>
<ellipse cx="250.7" cy="76.3" rx="2.4" ry="2.4" fill="url(#gc)" opacity="0.93"/>
<ellipse cx="277.3" cy="92.2" rx="1.9" ry="1.9" fill="url(#gc)" opacity="0.79"/>
<ellipse cx="228.0" cy="69.9" rx="2.6" ry="2.6" fill="url(#gc)" opacity="0.66"/>
<ellipse cx="224.1" cy="91.4" rx="2.1" ry="2.1" fill="url(#gc)" opacity="0.74"/>
<ellipse cx="222.7" cy="85.6" rx="2.1" ry="2.1" fill="url(#gc)" opacity="0.89"/>
<ellipse cx="248.4" cy="72.6" rx="2.4" ry="2.4" fill="url(#gc)" opacity="0.73"/>
<ellipse cx="215.8" cy="102.3" rx="2.4" ry="2.4" fill="url(#gc)" opacity="0.89"/>
<ellipse cx="233.4" cy="85.0" rx="2.4" ry="2.4" fill="url(#gc)" opacity="0.86"/>
<ellipse cx="252.7" cy="91.1" rx="2.6" ry="2.6" fill="url(#gc)" opacity="0.67"/>
<ellipse cx="312.4" cy="94.2" rx="2.1" ry="2.1" fill="url(#gc)" opacity="0.77"/>
<ellipse cx="268.5" cy="85.1" rx="1.9" ry="1.9" fill="url(#gc)" opacity="0.85"/>
<ellipse cx="227.6" cy="108.3" rx="2.6" ry="2.6" fill="url(#gc)" opacity="0.96"/>
<ellipse cx="290.9" cy="86.0" rx="2.1" ry="2.1" fill="url(#gc)" opacity="0.68"/>
<ellipse cx="275.4" cy="113.0" rx="2.4" ry="2.4" fill="url(#gc)" opacity="0.86"/>
<ellipse cx="257.3" cy="70.6" rx="2.4" ry="2.4" fill="url(#gc)" opacity="0.91"/>
<ellipse cx="312.2" cy="87.1" rx="2.4" ry="2.4" fill="url(#gc)" opacity="0.72"/>
<ellipse cx="291.1" cy="99.9" rx="2.4" ry="2.4" fill="url(#gc)" opacity="0.99"/>
<ellipse cx="231.8" cy="91.1" rx="2.6" ry="2.6" fill="url(#gc)" opacity="0.96"/>
<ellipse cx="287.4" cy="75.7" rx="2.1" ry="2.1" fill="url(#gc)" opacity="0.69"/>
<ellipse cx="300.6" cy="93.1" rx="2.1" ry="2.1" fill="url(#gc)" opacity="0.96"/>
<ellipse cx="263.8" cy="109.3" rx="2.2" ry="2.2" fill="url(#gc)" opacity="0.74"/>
<ellipse cx="299.0" cy="107.2" rx="2.4" ry="2.4" fill="url(#gc)" opacity="0.91"/>
<ellipse cx="310.3" cy="105.3" rx="1.9" ry="1.9" fill="url(#gc)" opacity="0.94"/>
<ellipse cx="305.5" cy="79.1" rx="1.9" ry="1.9" fill="url(#gc)" opacity="0.66"/>
<ellipse cx="242.1" cy="103.8" rx="2.1" ry="2.1" fill="url(#gc)" opacity="0.73"/>
<ellipse cx="272.1" cy="75.5" rx="2.6" ry="2.6" fill="url(#gc)" opacity="0.86"/>
<ellipse cx="257.5" cy="81.4" rx="2.0" ry="2.0" fill="url(#gc)" opacity="0.79"/>
<ellipse cx="233.1" cy="69.9" rx="2.4" ry="2.4" fill="url(#gc)" opacity="1.00"/>
<ellipse cx="269.8" cy="103.1" rx="2.1" ry="2.1" fill="url(#gc)" opacity="0.87"/>
<ellipse cx="285.0" cy="92.0" rx="2.1" ry="2.1" fill="url(#gc)" opacity="0.66"/>
<ellipse cx="282.5" cy="85.9" rx="2.6" ry="2.6" fill="url(#gc)" opacity="0.80"/>
<ellipse cx="232.5" cy="75.4" rx="2.1" ry="2.1" fill="url(#gc)" opacity="0.75"/>
<ellipse cx="275.6" cy="102.5" rx="1.9" ry="1.9" fill="url(#gc)" opacity="0.73"/>
<ellipse cx="310.2" cy="72.0" rx="2.1" ry="2.1" fill="url(#gc)" opacity="0.87"/>
<ellipse cx="291.2" cy="90.5" rx="1.9" ry="1.9" fill="url(#gc)" opacity="0.98"/>
<ellipse cx="300.0" cy="101.4" rx="2.2" ry="2.2" fill="url(#gc)" opacity="0.88"/>
<ellipse cx="255.6" cy="75.4" rx="1.9" ry="1.9" fill="url(#gc)" opacity="0.94"/>
<ellipse cx="215.8" cy="76.8" rx="2.0" ry="2.0" fill="url(#gc)" opacity="0.89"/>
<ellipse cx="234.0" cy="108.2" rx="2.1" ry="2.1" fill="url(#gc)" opacity="0.81"/>
<ellipse cx="256.3" cy="101.3" rx="1.9" ry="1.9" fill="url(#gc)" opacity="0.91"/>
<ellipse cx="239.4" cy="68.4" rx="2.0" ry="2.0" fill="url(#gc)" opacity="0.93"/>
<ellipse cx="306.8" cy="95.9" rx="2.6" ry="2.6" fill="url(#gc)" opacity="0.95"/>
<ellipse cx="277.3" cy="71.7" rx="2.6" ry="2.6" fill="url(#gc)" opacity="0.78"/>
<ellipse cx="233.0" cy="103.1" rx="2.4" ry="2.4" fill="url(#gc)" opacity="0.79"/>
<ellipse cx="280.2" cy="115.8" rx="1.9" ry="1.9" fill="url(#gc)" opacity="0.79"/>
<ellipse cx="220.4" cy="74.1" rx="2.4" ry="2.4" fill="url(#gc)" opacity="0.79"/>
<ellipse cx="259.9" cy="85.3" rx="1.9" ry="1.9" fill="url(#gc)" opacity="0.85"/>
<ellipse cx="269.4" cy="89.5" rx="2.6" ry="2.6" fill="url(#gc)" opacity="0.68"/>
<ellipse cx="299.3" cy="69.6" rx="2.0" ry="2.0" fill="url(#gc)" opacity="0.85"/>
<ellipse cx="237.3" cy="74.7" rx="2.6" ry="2.6" fill="url(#gc)" opacity="0.98"/>
<ellipse cx="300.8" cy="84.7" rx="2.0" ry="2.0" fill="url(#gc)" opacity="0.66"/>
<ellipse cx="267.4" cy="98.1" rx="1.9" ry="1.9" fill="url(#gc)" opacity="0.93"/>
<ellipse cx="293.7" cy="73.6" rx="2.2" ry="2.2" fill="url(#gc)" opacity="0.72"/>
<ellipse cx="313.4" cy="68.2" rx="2.0" ry="2.0" fill="url(#gc)" opacity="0.68"/>
<ellipse cx="264.1" cy="69.5" rx="2.2" ry="2.2" fill="url(#gc)" opacity="0.97"/>
<ellipse cx="267.3" cy="75.0" rx="2.0" ry="2.0" fill="url(#gc)" opacity="0.99"/>
<ellipse cx="218.9" cy="90.6" rx="2.6" ry="2.6" fill="url(#gc)" opacity="0.70"/>
<ellipse cx="227.8" cy="86.5" rx="2.1" ry="2.1" fill="url(#gc)" opacity="0.82"/>
<ellipse cx="260.8" cy="90.2" rx="2.4" ry="2.4" fill="url(#gc)" opacity="0.99"/>
<ellipse cx="252.7" cy="84.9" rx="2.2" ry="2.2" fill="url(#gc)" opacity="0.86"/>
<ellipse cx="279.6" cy="67.8" rx="2.4" ry="2.4" fill="url(#gc)" opacity="0.87"/>
<ellipse cx="224.0" cy="78.0" rx="2.4" ry="2.4" fill="url(#gc)" opacity="0.69"/>
<ellipse cx="274.3" cy="95.3" rx="2.1" ry="2.1" fill="url(#gc)" opacity="0.88"/>
<ellipse cx="292.4" cy="111.5" rx="2.6" ry="2.6" fill="url(#gc)" opacity="0.71"/>
<ellipse cx="242.3" cy="111.0" rx="2.6" ry="2.6" fill="url(#gc)" opacity="0.94"/>
<ellipse cx="252.1" cy="102.3" rx="2.4" ry="2.4" fill="url(#gc)" opacity="0.87"/>
<ellipse cx="243.1" cy="82.1" rx="1.9" ry="1.9" fill="url(#gc)" opacity="0.94"/>
<ellipse cx="216.2" cy="83.2" rx="2.1" ry="2.1" fill="url(#gc)" opacity="0.66"/>
<ellipse cx="238.0" cy="88.9" rx="2.1" ry="2.1" fill="url(#gc)" opacity="0.75"/>
<ellipse cx="222.8" cy="69.9" rx="2.6" ry="2.6" fill="url(#gc)" opacity="0.96"/>
<ellipse cx="283.0" cy="81.6" rx="2.2" ry="2.2" fill="url(#gc)" opacity="0.84"/>
<ellipse cx="247.4" cy="98.9" rx="2.4" ry="2.4" fill="url(#gc)" opacity="0.79"/>
<ellipse cx="298.8" cy="76.8" rx="2.6" ry="2.6" fill="url(#gc)" opacity="0.66"/>
<ellipse cx="235.6" cy="112.2" rx="2.6" ry="2.6" fill="url(#gc)" opacity="0.91"/>
<ellipse cx="287.0" cy="105.9" rx="2.4" ry="2.4" fill="url(#gc)" opacity="0.74"/>
<ellipse cx="227.7" cy="75.1" rx="2.4" ry="2.4" fill="url(#gc)" opacity="0.68"/>
<ellipse cx="265.1" cy="88.9" rx="2.2" ry="2.2" fill="url(#gc)" opacity="1.00"/>
<ellipse cx="304.4" cy="102.3" rx="2.1" ry="2.1" fill="url(#gc)" opacity="0.75"/>
<ellipse cx="272.1" cy="80.8" rx="2.6" ry="2.6" fill="url(#gc)" opacity="0.77"/>
<ellipse cx="306.3" cy="83.7" rx="2.2" ry="2.2" fill="url(#gc)" opacity="0.82"/>
<ellipse cx="235.0" cy="94.7" rx="2.4" ry="2.4" fill="url(#gc)" opacity="0.83"/>
<ellipse cx="314.6" cy="104.1" rx="2.2" ry="2.2" fill="url(#gc)" opacity="0.90"/>
<ellipse cx="282.7" cy="109.6" rx="2.4" ry="2.4" fill="url(#gc)" opacity="0.69"/>
<ellipse cx="247.7" cy="86.7" rx="2.4" ry="2.4" fill="url(#gc)" opacity="0.73"/>
<ellipse cx="302.4" cy="97.3" rx="2.6" ry="2.6" fill="url(#gc)" opacity="0.91"/>
<ellipse cx="295.4" cy="86.7" rx="2.4" ry="2.4" fill="url(#gc)" opacity="0.83"/>
<ellipse cx="297.8" cy="97.0" rx="2.1" ry="2.1" fill="url(#gc)" opacity="0.72"/>
<ellipse cx="238.6" cy="108.0" rx="2.2" ry="2.2" fill="url(#gc)" opacity="0.96"/>
<ellipse cx="275.7" cy="108.6" rx="2.2" ry="2.2" fill="url(#gc)" opacity="0.86"/>
<ellipse cx="216.2" cy="67.4" rx="2.1" ry="2.1" fill="url(#gc)" opacity="0.97"/>
<ellipse cx="244.6" cy="68.7" rx="1.9" ry="1.9" fill="url(#gc)" opacity="0.73"/>
</g>
<rect x="294.2" y="114.0" width="19.7" height="1.25" fill="#d8d8d8"/>
</g>
<rect x="319.0" y="15.6" width="101.75" height="101.45" fill="#000"/>
<g clip-path="url(#clipD)"><g filter="url(#soft)">
<polygon points="344.1,45.5 350.5,40.4 359.6,40.4 364.8,45.5 373.9,46.8 382.9,49.4 390.7,52.0 397.2,55.9 393.3,63.7 390.7,68.9 386.8,74.0 382.9,79.2 379.0,85.7 373.9,85.7 368.7,83.1 363.5,83.1 355.7,80.5 350.5,77.9 349.2,71.5 350.5,63.7 346.7,58.5 344.1,52.0" fill="#0c5a1c" filter="url(#soft2)" opacity="0.8"/>
<ellipse cx="346.8" cy="50.4" rx="2.0" ry="2.0" fill="url(#gd)" opacity="0.38"/>
<ellipse cx="377.9" cy="61.0" rx="2.2" ry="2.2" fill="url(#gd)" opacity="0.74"/>
<ellipse cx="367.4" cy="62.7" rx="2.5" ry="2.5" fill="url(#gd)" opacity="0.62"/>
<circle cx="367.4" cy="62.9" r="0.7" fill="#2a9ab0" opacity="0.7"/>
<ellipse cx="364.8" cy="83.1" rx="2.0" ry="2.0" fill="url(#gd)" opacity="0.42"/>
<ellipse cx="363.1" cy="71.0" rx="1.9" ry="1.9" fill="url(#gd)" opacity="0.40"/>
<ellipse cx="369.9" cy="70.5" rx="1.8" ry="1.8" fill="url(#gd)" opacity="0.58"/>
<circle cx="369.6" cy="69.6" r="0.7" fill="#2a9ab0" opacity="0.7"/>
<ellipse cx="350.0" cy="41.2" rx="2.2" ry="2.2" fill="url(#gd)" opacity="0.40"/>
<ellipse cx="374.4" cy="74.4" rx="2.1" ry="2.1" fill="url(#gd)" opacity="0.58"/>
<ellipse cx="389.2" cy="63.2" rx="2.4" ry="2.4" fill="url(#gd)" opacity="0.51"/>
<ellipse cx="353.1" cy="45.5" rx="2.2" ry="2.2" fill="url(#gd)" opacity="0.42"/>
<ellipse cx="371.6" cy="63.5" rx="1.8" ry="1.8" fill="url(#gd)" opacity="0.71"/>
<ellipse cx="354.3" cy="50.2" rx="2.3" ry="2.3" fill="url(#gd)" opacity="0.36"/>
<ellipse cx="356.9" cy="59.2" rx="2.1" ry="2.1" fill="url(#gd)" opacity="0.33"/>
<ellipse cx="363.1" cy="79.7" rx="2.4" ry="2.4" fill="url(#gd)" opacity="0.35"/>
<ellipse cx="364.2" cy="46.3" rx="2.0" ry="2.0" fill="url(#gd)" opacity="0.39"/>
<ellipse cx="353.3" cy="76.3" rx="2.1" ry="2.1" fill="url(#gd)" opacity="0.40"/>
<ellipse cx="384.8" cy="55.1" rx="1.9" ry="1.9" fill="url(#gd)" opacity="0.57"/>
<ellipse cx="351.5" cy="59.8" rx="2.5" ry="2.5" fill="url(#gd)" opacity="0.36"/>
<ellipse cx="367.0" cy="58.9" rx="1.7" ry="1.7" fill="url(#gd)" opacity="0.61"/>
<ellipse cx="375.0" cy="52.4" rx="2.4" ry="2.4" fill="url(#gd)" opacity="0.48"/>
<ellipse cx="363.6" cy="66.7" rx="2.3" ry="2.3" fill="url(#gd)" opacity="0.60"/>
<ellipse cx="366.6" cy="74.3" rx="2.2" ry="2.2" fill="url(#gd)" opacity="0.55"/>
<ellipse cx="382.1" cy="61.6" rx="2.3" ry="2.3" fill="url(#gd)" opacity="0.77"/>
<ellipse cx="364.1" cy="56.0" rx="2.3" ry="2.3" fill="url(#gd)" opacity="0.37"/>
<ellipse cx="382.6" cy="73.4" rx="2.2" ry="2.2" fill="url(#gd)" opacity="0.63"/>
<ellipse cx="362.4" cy="59.6" rx="1.8" ry="1.8" fill="url(#gd)" opacity="0.38"/>
<ellipse cx="354.8" cy="64.3" rx="2.2" ry="2.2" fill="url(#gd)" opacity="0.32"/>
<ellipse cx="383.7" cy="70.4" rx="2.0" ry="2.0" fill="url(#gd)" opacity="0.69"/>
<circle cx="383.4" cy="71.2" r="0.7" fill="#2a9ab0" opacity="0.7"/>
<ellipse cx="389.4" cy="53.6" rx="2.2" ry="2.2" fill="url(#gd)" opacity="0.34"/>
<ellipse cx="358.3" cy="68.7" rx="1.9" ry="1.9" fill="url(#gd)" opacity="0.31"/>
<ellipse cx="388.0" cy="68.2" rx="1.9" ry="1.9" fill="url(#gd)" opacity="0.58"/>
<ellipse cx="357.3" cy="52.6" rx="2.5" ry="2.5" fill="url(#gd)" opacity="0.36"/>
<ellipse cx="383.9" cy="50.5" rx="2.4" ry="2.4" fill="url(#gd)" opacity="0.33"/>
<ellipse cx="367.9" cy="81.4" rx="2.0" ry="2.0" fill="url(#gd)" opacity="0.40"/>
<ellipse cx="378.6" cy="56.3" rx="2.0" ry="2.0" fill="url(#gd)" opacity="0.70"/>
<ellipse cx="350.9" cy="50.7" rx="2.2" ry="2.2" fill="url(#gd)" opacity="0.36"/>
<ellipse cx="373.5" cy="84.8" rx="2.0" ry="2.0" fill="url(#gd)" opacity="0.42"/>
<ellipse cx="349.4" cy="54.3" rx="2.0" ry="2.0" fill="url(#gd)" opacity="0.42"/>
<ellipse cx="369.4" cy="56.3" rx="2.4" ry="2.4" fill="url(#gd)" opacity="0.61"/>
<ellipse cx="359.3" cy="72.0" rx="2.0" ry="2.0" fill="url(#gd)" opacity="0.41"/>
<ellipse cx="352.3" cy="67.0" rx="2.0" ry="2.0" fill="url(#gd)" opacity="0.31"/>
<ellipse cx="365.8" cy="69.5" rx="1.8" ry="1.8" fill="url(#gd)" opacity="0.52"/>
<circle cx="365.7" cy="68.8" r="0.7" fill="#2a9ab0" opacity="0.7"/>
<ellipse cx="375.7" cy="70.8" rx="2.2" ry="2.2" fill="url(#gd)" opacity="0.75"/>
<ellipse cx="368.7" cy="46.5" rx="2.2" ry="2.2" fill="url(#gd)" opacity="0.39"/>
<ellipse cx="355.2" cy="56.3" rx="1.8" ry="1.8" fill="url(#gd)" opacity="0.34"/>
<ellipse cx="349.9" cy="73.5" rx="2.0" ry="2.0" fill="url(#gd)" opacity="0.42"/>
<ellipse cx="378.2" cy="77.3" rx="1.7" ry="1.7" fill="url(#gd)" opacity="0.53"/>
<ellipse cx="385.9" cy="75.1" rx="2.1" ry="2.1" fill="url(#gd)" opacity="0.51"/>
<ellipse cx="377.6" cy="50.7" rx="2.5" ry="2.5" fill="url(#gd)" opacity="0.50"/>
<ellipse cx="392.7" cy="59.3" rx="2.3" ry="2.3" fill="url(#gd)" opacity="0.37"/>
<ellipse cx="356.2" cy="72.7" rx="2.2" ry="2.2" fill="url(#gd)" opacity="0.34"/>
<ellipse cx="381.0" cy="49.3" rx="2.0" ry="2.0" fill="url(#gd)" opacity="0.38"/>
<ellipse cx="375.8" cy="58.3" rx="2.1" ry="2.1" fill="url(#gd)" opacity="0.64"/>
<ellipse cx="369.7" cy="73.8" rx="1.8" ry="1.8" fill="url(#gd)" opacity="0.72"/>
<ellipse cx="380.3" cy="83.5" rx="2.3" ry="2.3" fill="url(#gd)" opacity="0.32"/>
<ellipse cx="375.5" cy="48.0" rx="2.0" ry="2.0" fill="url(#gd)" opacity="0.38"/>
<ellipse cx="380.5" cy="66.2" rx="2.4" ry="2.4" fill="url(#gd)" opacity="0.86"/>
<ellipse cx="364.4" cy="76.4" rx="2.3" ry="2.3" fill="url(#gd)" opacity="0.46"/>
<ellipse cx="369.1" cy="67.0" rx="1.9" ry="1.9" fill="url(#gd)" opacity="0.59"/>
<circle cx="368.2" cy="67.3" r="0.7" fill="#2a9ab0" opacity="0.7"/>
<ellipse cx="359.5" cy="62.4" rx="2.4" ry="2.4" fill="url(#gd)" opacity="0.36"/>
<ellipse cx="348.9" cy="47.2" rx="1.8" ry="1.8" fill="url(#gd)" opacity="0.41"/>
<ellipse cx="361.5" cy="44.0" rx="1.9" ry="1.9" fill="url(#gd)" opacity="0.42"/>
<ellipse cx="366.9" cy="51.8" rx="2.3" ry="2.3" fill="url(#gd)" opacity="0.35"/>
<ellipse cx="358.8" cy="49.0" rx="1.8" ry="1.8" fill="url(#gd)" opacity="0.32"/>
<ellipse cx="393.4" cy="63.4" rx="1.8" ry="1.8" fill="url(#gd)" opacity="0.45"/>
<ellipse cx="348.3" cy="58.4" rx="2.4" ry="2.4" fill="url(#gd)" opacity="0.36"/>
<ellipse cx="358.5" cy="45.0" rx="1.9" ry="1.9" fill="url(#gd)" opacity="0.35"/>
<ellipse cx="377.1" cy="65.3" rx="2.2" ry="2.2" fill="url(#gd)" opacity="0.76"/>
<circle cx="376.9" cy="65.1" r="0.7" fill="#2a9ab0" opacity="0.7"/>
<ellipse cx="382.4" cy="77.7" rx="2.2" ry="2.2" fill="url(#gd)" opacity="0.49"/>
<ellipse cx="374.6" cy="81.4" rx="2.1" ry="2.1" fill="url(#gd)" opacity="0.44"/>
<ellipse cx="393.0" cy="55.9" rx="2.4" ry="2.4" fill="url(#gd)" opacity="0.35"/>
<ellipse cx="391.6" cy="66.6" rx="2.1" ry="2.1" fill="url(#gd)" opacity="0.46"/>
<ellipse cx="346.2" cy="54.5" rx="1.9" ry="1.9" fill="url(#gd)" opacity="0.35"/>
<ellipse cx="383.4" cy="58.2" rx="2.5" ry="2.5" fill="url(#gd)" opacity="0.50"/>
<ellipse cx="355.1" cy="41.1" rx="1.8" ry="1.8" fill="url(#gd)" opacity="0.34"/>
<ellipse cx="389.4" cy="59.7" rx="1.7" ry="1.7" fill="url(#gd)" opacity="0.56"/>
<ellipse cx="385.7" cy="60.7" rx="1.9" ry="1.9" fill="url(#gd)" opacity="0.61"/>
<circle cx="386.2" cy="61.0" r="0.7" fill="#2a9ab0" opacity="0.7"/>
<ellipse cx="371.2" cy="53.0" rx="2.1" ry="2.1" fill="url(#gd)" opacity="0.56"/>
<ellipse cx="362.9" cy="51.1" rx="2.2" ry="2.2" fill="url(#gd)" opacity="0.39"/>
<ellipse cx="359.8" cy="54.6" rx="2.0" ry="2.0" fill="url(#gd)" opacity="0.30"/>
<ellipse cx="378.0" cy="80.8" rx="2.1" ry="2.1" fill="url(#gd)" opacity="0.45"/>
<ellipse cx="371.9" cy="77.9" rx="1.9" ry="1.9" fill="url(#gd)" opacity="0.48"/>
<ellipse cx="396.2" cy="55.7" rx="1.7" ry="1.7" fill="url(#gd)" opacity="0.35"/>
<ellipse cx="387.0" cy="71.9" rx="2.2" ry="2.2" fill="url(#gd)" opacity="0.52"/>
<ellipse cx="359.2" cy="78.4" rx="2.3" ry="2.3" fill="url(#gd)" opacity="0.35"/>
<ellipse cx="371.5" cy="59.7" rx="2.0" ry="2.0" fill="url(#gd)" opacity="0.56"/>
<circle cx="371.4" cy="59.0" r="0.7" fill="#2a9ab0" opacity="0.7"/>
<ellipse cx="380.8" cy="53.5" rx="1.7" ry="1.7" fill="url(#gd)" opacity="0.50"/>
<ellipse cx="378.5" cy="72.4" rx="2.1" ry="2.1" fill="url(#gd)" opacity="0.75"/>
<circle cx="377.9" cy="72.8" r="0.7" fill="#2a9ab0" opacity="0.7"/>
<ellipse cx="372.2" cy="49.2" rx="1.9" ry="1.9" fill="url(#gd)" opacity="0.36"/>
<ellipse cx="351.6" cy="63.3" rx="1.8" ry="1.8" fill="url(#gd)" opacity="0.36"/>
<ellipse cx="368.3" cy="77.5" rx="2.5" ry="2.5" fill="url(#gd)" opacity="0.49"/>
<ellipse cx="380.6" cy="69.5" rx="2.3" ry="2.3" fill="url(#gd)" opacity="0.88"/>
<ellipse cx="356.8" cy="80.4" rx="1.7" ry="1.7" fill="url(#gd)" opacity="0.30"/>
<ellipse cx="362.4" cy="63.6" rx="1.9" ry="1.9" fill="url(#gd)" opacity="0.48"/>
<ellipse cx="374.1" cy="66.2" rx="2.4" ry="2.4" fill="url(#gd)" opacity="0.73"/>
<ellipse cx="386.4" cy="65.2" rx="1.9" ry="1.9" fill="url(#gd)" opacity="0.69"/>
<circle cx="385.7" cy="65.8" r="0.7" fill="#2a9ab0" opacity="0.7"/>
<ellipse cx="359.0" cy="41.0" rx="2.4" ry="2.4" fill="url(#gd)" opacity="0.32"/>
<ellipse cx="347.7" cy="43.5" rx="1.8" ry="1.8" fill="url(#gd)" opacity="0.34"/>
<ellipse cx="353.0" cy="71.6" rx="2.0" ry="2.0" fill="url(#gd)" opacity="0.32"/>
<ellipse cx="374.7" cy="61.7" rx="2.4" ry="2.4" fill="url(#gd)" opacity="0.85"/>
<circle cx="375.0" cy="62.2" r="0.7" fill="#2a9ab0" opacity="0.7"/>
<ellipse cx="377.1" cy="84.7" rx="1.8" ry="1.8" fill="url(#gd)" opacity="0.32"/>
<ellipse cx="373.1" cy="55.6" rx="1.9" ry="1.9" fill="url(#gd)" opacity="0.65"/>
<circle cx="373.7" cy="56.4" r="0.7" fill="#2a9ab0" opacity="0.7"/>
<ellipse cx="360.1" cy="81.5" rx="2.4" ry="2.4" fill="url(#gd)" opacity="0.33"/>
<ellipse cx="345.4" cy="45.8" rx="2.5" ry="2.5" fill="url(#gd)" opacity="0.36"/>
<ellipse cx="387.6" cy="56.7" rx="1.8" ry="1.8" fill="url(#gd)" opacity="0.44"/>
<ellipse cx="360.9" cy="75.5" rx="2.3" ry="2.3" fill="url(#gd)" opacity="0.32"/>
<ellipse cx="349.9" cy="69.4" rx="2.1" ry="2.1" fill="url(#gd)" opacity="0.35"/>
<ellipse cx="356.0" cy="47.2" rx="2.3" ry="2.3" fill="url(#gd)" opacity="0.30"/>
<ellipse cx="358.2" cy="65.5" rx="2.2" ry="2.2" fill="url(#gd)" opacity="0.40"/>
<ellipse cx="371.2" cy="82.0" rx="2.1" ry="2.1" fill="url(#gd)" opacity="0.47"/>
<ellipse cx="351.9" cy="56.4" rx="2.3" ry="2.3" fill="url(#gd)" opacity="0.30"/>
<ellipse cx="353.2" cy="53.2" rx="2.4" ry="2.4" fill="url(#gd)" opacity="0.36"/>
<ellipse cx="356.6" cy="76.0" rx="2.4" ry="2.4" fill="url(#gd)" opacity="0.33"/>
<ellipse cx="359.8" cy="57.9" rx="2.2" ry="2.2" fill="url(#gd)" opacity="0.38"/>
<ellipse cx="366.4" cy="48.7" rx="1.8" ry="1.8" fill="url(#gd)" opacity="0.38"/>
<ellipse cx="383.7" cy="67.0" rx="2.1" ry="2.1" fill="url(#gd)" opacity="0.58"/>
<circle cx="382.8" cy="67.2" r="0.7" fill="#2a9ab0" opacity="0.7"/>
<ellipse cx="387.1" cy="51.0" rx="2.0" ry="2.0" fill="url(#gd)" opacity="0.41"/>
<ellipse cx="355.1" cy="69.0" rx="2.2" ry="2.2" fill="url(#gd)" opacity="0.39"/>
<ellipse cx="398.5" cy="55.9" rx="1.9" ry="1.9" fill="url(#gd)" opacity="0.70"/>
<ellipse cx="395.1" cy="53.8" rx="1.9" ry="1.9" fill="url(#gd)" opacity="0.70"/>
<ellipse cx="345.4" cy="48.1" rx="1.9" ry="1.9" fill="url(#gd)" opacity="0.70"/>
<ellipse cx="351.1" cy="68.9" rx="1.9" ry="1.9" fill="url(#gd)" opacity="0.70"/>
<ellipse cx="376.5" cy="86.5" rx="1.9" ry="1.9" fill="url(#gd)" opacity="0.70"/>
<ellipse cx="347.4" cy="55.9" rx="1.9" ry="1.9" fill="url(#gd)" opacity="0.70"/>
<ellipse cx="366.1" cy="83.9" rx="1.9" ry="1.9" fill="url(#gd)" opacity="0.70"/>
</g>
<rect x="398.9" y="114.0" width="20.1" height="1.85" fill="#d8d8d8"/>
</g>
<rect x="424.35" y="15.6" width="100.45" height="101.45" fill="#000"/>
<g clip-path="url(#clipE)"><g filter="url(#soft)">
<ellipse cx="458.2" cy="17.5" rx="2.5" ry="2.5" fill="url(#gg)"/>
<ellipse cx="455.7" cy="24.9" rx="4.5" ry="3.0" fill="url(#gg)" transform="rotate(-10 455.7 24.9)"/>
<ellipse cx="442.7" cy="28.9" rx="2.8" ry="3.3" fill="url(#gg)"/>
<ellipse cx="453.0" cy="30.5" rx="3.0" ry="3.2" fill="url(#gg)"/>
<ellipse cx="485.2" cy="29.9" rx="2.9" ry="2.3" fill="url(#gg)" transform="rotate(20 485.2 29.9)"/>
<ellipse cx="492.0" cy="33.6" rx="2.5" ry="2.5" fill="url(#gg)"/>
<ellipse cx="497.0" cy="45.0" rx="3.1" ry="3.7" fill="url(#gg)" transform="rotate(20 497.0 45.0)"/>
<ellipse cx="489.7" cy="46.5" rx="2.5" ry="2.5" fill="url(#gg)"/>
<ellipse cx="451.0" cy="51.3" rx="3.5" ry="3.5" fill="url(#gg)"/>
<ellipse cx="446.8" cy="62.2" rx="3.7" ry="3.5" fill="url(#gg)"/>
<ellipse cx="508.4" cy="15.6" rx="2.0" ry="1.7" fill="url(#gg)"/>
<ellipse cx="514.6" cy="15.6" rx="2.0" ry="1.7" fill="url(#gg)"/>
<ellipse cx="442.7" cy="18.1" rx="1.5" ry="1.5" fill="url(#gg)"/>
<ellipse cx="471.7" cy="66.4" rx="1.7" ry="1.5" fill="url(#gg)"/>
<ellipse cx="472.0" cy="68.2" rx="2.3" ry="2.7" fill="url(#gg)"/>
<ellipse cx="462.0" cy="80.2" rx="3.2" ry="3.0" fill="url(#gg)"/>
<ellipse cx="469.4" cy="82.3" rx="3.4" ry="3.5" fill="url(#gg)"/>
<ellipse cx="474.7" cy="82.9" rx="3.4" ry="3.5" fill="url(#gg)"/>
<ellipse cx="467.3" cy="87.2" rx="3.4" ry="3.5" fill="url(#gg)"/>
<ellipse cx="481.4" cy="86.7" rx="3.5" ry="3.5" fill="url(#gg)"/>
<ellipse cx="445.2" cy="84.0" rx="2.2" ry="1.8" fill="url(#gg)"/>
<ellipse cx="450.8" cy="82.3" rx="1.6" ry="1.5" fill="url(#gg)"/>
<ellipse cx="441.4" cy="87.8" rx="2.1" ry="3.7" fill="url(#gg)" transform="rotate(-10 441.4 87.8)"/>
<ellipse cx="485.2" cy="92.0" rx="3.0" ry="3.0" fill="url(#gg)"/>
<ellipse cx="484.2" cy="95.2" rx="3.1" ry="2.9" fill="url(#gg)"/>
<ellipse cx="493.3" cy="90.3" rx="3.5" ry="3.5" fill="url(#gg)"/>
<ellipse cx="493.3" cy="95.6" rx="3.5" ry="3.3" fill="url(#gg)"/>
<ellipse cx="497.3" cy="97.7" rx="2.5" ry="2.7" fill="url(#gg)"/>
<ellipse cx="446.2" cy="103.6" rx="2.7" ry="2.2" fill="url(#gg)" transform="rotate(-30 446.2 103.6)"/>
<ellipse cx="500.0" cy="104.7" rx="2.3" ry="2.8" fill="url(#gg)"/>
<ellipse cx="512.0" cy="97.3" rx="2.5" ry="2.5" fill="url(#gg)"/>
<ellipse cx="512.7" cy="106.1" rx="2.7" ry="2.5" fill="url(#gg)"/>
<ellipse cx="520.7" cy="85.7" rx="2.5" ry="3.1" fill="url(#gg)"/>
<ellipse cx="523.2" cy="92.0" rx="2.3" ry="2.7" fill="url(#gg)"/>
<ellipse cx="524.3" cy="76.6" rx="1.9" ry="2.3" fill="url(#gg)"/>
<ellipse cx="475.3" cy="114.6" rx="2.2" ry="3.1" fill="url(#gg)" transform="rotate(-15 475.3 114.6)"/>
<ellipse cx="513.0" cy="115.6" rx="3.3" ry="2.7" fill="url(#gg)"/>
</g>
<rect x="502.9" y="114.0" width="20.2" height="1.85" fill="#d8d8d8"/>
<ellipse cx="513" cy="115.3" rx="2.7" ry="1.7" fill="#22d434" opacity="0.72"/>
</g>
<rect x="526.75" y="15.6" width="6.5" height="101.4" fill="url(#cbar)"/>
<text x="529.6" y="10.9" font-size="6.2" fill="#222">×10<tspan font-size="4.3" dy="-2.3">-2</tspan></text>
<text x="533.7" y="18.6" font-size="6.1" fill="#222">40.0</text>
<text x="533.7" y="44.7" font-size="6.1" fill="#222">30.0</text>
<text x="533.7" y="69.4" font-size="6.1" fill="#222">20.0</text>
<text x="533.7" y="93.3" font-size="6.1" fill="#222">10.0</text>
<text x="533.7" y="119.3" font-size="6.1" fill="#222">0.0</text>
<rect x="30.5" y="123.75" width="76.05" height="101.75" fill="#fff"/>
<path d="M30.5 123.75H106.55V225.5" fill="none" stroke="#8c8c8c" stroke-width="0.95"/>
<path d="M30.5 123.35V225.5H106.95" fill="none" stroke="#5a5a5a" stroke-width="0.85"/>
<line x1="28.8" y1="123.75" x2="30.5" y2="123.75" stroke="#5a5a5a" stroke-width="0.8"/>
<text x="27.4" y="125.8" font-size="6.3" text-anchor="end" fill="#222">30.0</text>
<line x1="28.8" y1="149.19" x2="30.5" y2="149.19" stroke="#5a5a5a" stroke-width="0.8"/>
<text x="27.4" y="151.2" font-size="6.3" text-anchor="end" fill="#222">26.0</text>
<line x1="28.8" y1="174.62" x2="30.5" y2="174.62" stroke="#5a5a5a" stroke-width="0.8"/>
<text x="27.4" y="176.6" font-size="6.3" text-anchor="end" fill="#222">22.0</text>
<line x1="28.8" y1="200.06" x2="30.5" y2="200.06" stroke="#5a5a5a" stroke-width="0.8"/>
<text x="27.4" y="202.1" font-size="6.3" text-anchor="end" fill="#222">18.0</text>
<line x1="28.8" y1="225.50" x2="30.5" y2="225.50" stroke="#5a5a5a" stroke-width="0.8"/>
<text x="27.4" y="227.5" font-size="6.3" text-anchor="end" fill="#222">14.0</text>
<line x1="28.8" y1="158.73" x2="30.5" y2="158.73" stroke="#5a5a5a" stroke-width="0.8"/>
<text x="27.4" y="160.7" font-size="6.3" text-anchor="end" fill="#222">24.5</text>
<line x1="30.50" y1="225.5" x2="30.50" y2="227.2" stroke="#5a5a5a" stroke-width="0.8"/>
<text x="30.5" y="233.6" font-size="6.3" text-anchor="middle" fill="#222">8</text>
<line x1="41.36" y1="225.5" x2="41.36" y2="227.2" stroke="#5a5a5a" stroke-width="0.8"/>
<text x="41.4" y="233.6" font-size="6.3" text-anchor="middle" fill="#222">10</text>
<line x1="52.23" y1="225.5" x2="52.23" y2="227.2" stroke="#5a5a5a" stroke-width="0.8"/>
<text x="52.2" y="233.6" font-size="6.3" text-anchor="middle" fill="#222">12</text>
<line x1="63.09" y1="225.5" x2="63.09" y2="227.2" stroke="#5a5a5a" stroke-width="0.8"/>
<text x="63.1" y="233.6" font-size="6.3" text-anchor="middle" fill="#222">14</text>
<line x1="73.96" y1="225.5" x2="73.96" y2="227.2" stroke="#5a5a5a" stroke-width="0.8"/>
<text x="74.0" y="233.6" font-size="6.3" text-anchor="middle" fill="#222">16</text>
<line x1="84.82" y1="225.5" x2="84.82" y2="227.2" stroke="#5a5a5a" stroke-width="0.8"/>
<text x="84.8" y="233.6" font-size="6.3" text-anchor="middle" fill="#222">18</text>
<line x1="95.69" y1="225.5" x2="95.69" y2="227.2" stroke="#5a5a5a" stroke-width="0.8"/>
<text x="95.7" y="233.6" font-size="6.3" text-anchor="middle" fill="#222">20</text>
<line x1="106.55" y1="225.5" x2="106.55" y2="227.2" stroke="#5a5a5a" stroke-width="0.8"/>
<text x="106.5" y="233.6" font-size="6.3" text-anchor="middle" fill="#222">22</text>
<text x="68.5" y="244.7" font-size="7.0" font-weight="bold" text-anchor="middle" fill="#111" stroke="#111" stroke-width="0.15">Cell Size (μm)</text>
<text transform="translate(11.4 174.7) rotate(-90)" font-size="6.9" font-weight="bold" text-anchor="middle" fill="#111" stroke="#111" stroke-width="0.15">Fpol (×10<tspan font-size="5" dy="-2.2">-2</tspan><tspan dy="2.2">)</tspan></text>
<text x="7.8" y="130.4" font-size="8.5" font-weight="bold" fill="#111" stroke="#111" stroke-width="0.2">F</text>
<g fill="#000">
<path d="M79.0 139.4L80.9 142.8H77.0Z"/>
<path d="M83.5 138.7L85.5 142.1H81.6Z"/>
<path d="M86.6 141.8L88.6 145.2H84.7Z"/>
<path d="M77.0 144.2L79.0 147.6H75.1Z"/>
<path d="M85.4 146.6L87.4 150.0H83.5Z"/>
<path d="M92.1 145.2L94.1 148.6H90.2Z"/>
<path d="M78.2 154.2L80.2 157.7H76.3Z"/>
<path d="M83.5 153.1L85.5 156.5H81.6Z"/>
<path d="M89.0 153.8L91.0 157.2H87.1Z"/>
<path d="M93.1 153.1L95.0 156.5H91.1Z"/>
<path d="M79.4 156.6L81.4 160.1H77.5Z"/>
<path d="M78.2 163.8L80.2 167.2H76.3Z"/>
<path d="M81.8 162.6L83.8 166.0H79.9Z"/>
<path d="M86.6 163.8L88.6 167.2H84.7Z"/>
<path d="M89.7 166.2L91.7 169.6H87.8Z"/>
<path d="M78.2 172.2L80.2 175.6H76.3Z"/>
<path d="M101.0 159.5L102.9 162.9H99.0Z"/>
<path d="M59.1 132.7L61.1 136.1H57.2Z"/>
<path d="M73.5 133.2L75.4 136.6H71.5Z"/>
<path d="M43.6 139.4L45.5 142.8H41.6Z"/>
<path d="M51.9 138.9L53.9 142.3H50.0Z"/>
<path d="M56.2 135.6L58.2 139.0H54.3Z"/>
<path d="M60.3 137.0L62.2 140.4H58.3Z"/>
<path d="M65.1 135.1L67.0 138.5H63.1Z"/>
<path d="M69.1 138.0L71.1 141.4H67.2Z"/>
<path d="M62.6 170.3L64.6 173.8H60.7Z"/>
<path d="M47.8 158.0L49.8 161.4H45.9Z"/>
<path d="M59.1 145.9L61.0 149.3H57.1Z"/>
<path d="M54.9 157.9L56.8 161.3H52.9Z"/>
<path d="M51.5 155.2L53.5 158.6H49.6Z"/>
<path d="M67.8 153.8L69.8 157.2H65.9Z"/>
<path d="M54.5 155.1L56.5 158.6H52.6Z"/>
<path d="M53.0 152.1L55.0 155.5H51.1Z"/>
<path d="M54.9 153.2L56.8 156.6H52.9Z"/>
<path d="M59.1 173.4L61.0 176.8H57.1Z"/>
<path d="M71.1 148.4L73.0 151.8H69.1Z"/>
<path d="M51.8 158.2L53.8 161.6H49.9Z"/>
<path d="M57.3 158.8L59.3 162.2H55.4Z"/>
<path d="M50.6 157.6L52.6 161.0H48.7Z"/>
<path d="M37.8 156.5L39.7 159.9H35.8Z"/>
<path d="M49.7 160.3L51.6 163.7H47.7Z"/>
<path d="M48.8 165.0L50.8 168.4H46.9Z"/>
<path d="M48.1 147.7L50.0 151.1H46.1Z"/>
<path d="M66.4 151.7L68.4 155.1H64.5Z"/>
<path d="M66.5 156.6L68.5 160.0H64.6Z"/>
<path d="M38.9 151.9L40.9 155.3H37.0Z"/>
<path d="M44.9 149.0L46.8 152.4H42.9Z"/>
<path d="M57.4 162.7L59.3 166.1H55.4Z"/>
<path d="M63.1 153.0L65.1 156.4H61.2Z"/>
<path d="M66.9 147.2L68.9 150.6H65.0Z"/>
<path d="M38.8 151.0L40.7 154.4H36.8Z"/>
<path d="M41.0 167.0L43.0 170.5H39.1Z"/>
<path d="M52.1 170.2L54.1 173.6H50.2Z"/>
<path d="M51.6 147.4L53.5 150.8H49.6Z"/>
<path d="M65.9 152.9L67.8 156.3H63.9Z"/>
<path d="M56.5 145.7L58.5 149.1H54.6Z"/>
<path d="M62.1 159.6L64.1 163.0H60.2Z"/>
<path d="M65.2 155.2L67.2 158.6H63.3Z"/>
<path d="M73.1 156.8L75.1 160.2H71.2Z"/>
<path d="M43.3 169.0L45.3 172.4H41.4Z"/>
<path d="M51.7 163.9L53.6 167.4H49.7Z"/>
<path d="M56.0 162.9L58.0 166.3H54.1Z"/>
<path d="M60.7 162.2L62.7 165.6H58.8Z"/>
<path d="M67.9 151.3L69.8 154.7H65.9Z"/>
<path d="M56.9 156.5L58.8 159.9H54.9Z"/>
<path d="M42.7 141.7L44.6 145.1H40.7Z"/>
<path d="M54.3 167.4L56.3 170.8H52.4Z"/>
<path d="M66.5 148.2L68.4 151.6H64.5Z"/>
<path d="M56.1 169.9L58.0 173.3H54.1Z"/>
<path d="M70.4 165.9L72.4 169.3H68.5Z"/>
<path d="M63.7 150.0L65.7 153.5H61.8Z"/>
<path d="M55.1 161.1L57.0 164.5H53.1Z"/>
<path d="M63.8 154.2L65.7 157.6H61.8Z"/>
<path d="M53.8 169.3L55.8 172.7H51.9Z"/>
<path d="M66.3 152.3L68.3 155.8H64.4Z"/>
<path d="M62.0 171.2L63.9 174.7H60.0Z"/>
<path d="M65.6 154.1L67.6 157.6H63.7Z"/>
<path d="M60.4 153.8L62.3 157.2H58.4Z"/>
<path d="M66.2 161.5L68.2 164.9H64.3Z"/>
<path d="M53.3 140.8L55.3 144.2H51.4Z"/>
<path d="M54.0 151.4L55.9 154.8H52.0Z"/>
<path d="M69.3 153.7L71.2 157.1H67.3Z"/>
<path d="M53.4 166.4L55.4 169.8H51.5Z"/>
<path d="M66.3 143.3L68.2 146.7H64.3Z"/>
<path d="M61.5 141.5L63.4 144.9H59.5Z"/>
<path d="M53.3 155.7L55.3 159.1H51.4Z"/>
<path d="M43.4 161.4L45.4 164.8H41.5Z"/>
<path d="M65.6 151.6L67.6 155.0H63.7Z"/>
<path d="M57.8 163.7L59.8 167.1H55.9Z"/>
<path d="M40.1 158.0L42.0 161.4H38.1Z"/>
<path d="M64.5 148.6L66.4 152.0H62.5Z"/>
<path d="M38.8 157.9L40.8 161.3H36.9Z"/>
<path d="M57.4 143.3L59.3 146.7H55.4Z"/>
<path d="M45.0 139.8L46.9 143.2H43.0Z"/>
<path d="M51.7 150.2L53.7 153.7H49.8Z"/>
<path d="M44.3 166.2L46.3 169.6H42.4Z"/>
<path d="M63.5 157.5L65.4 160.9H61.5Z"/>
<path d="M50.4 160.7L52.4 164.1H48.5Z"/>
<path d="M62.3 161.2L64.2 164.6H60.3Z"/>
<path d="M67.7 145.0L69.7 148.4H65.8Z"/>
<path d="M50.5 149.8L52.5 153.2H48.6Z"/>
<path d="M67.2 155.4L69.1 158.8H65.2Z"/>
<path d="M74.2 165.8L76.2 169.2H72.3Z"/>
<path d="M67.3 150.5L69.2 153.9H65.3Z"/>
<path d="M50.1 167.6L52.1 171.0H48.2Z"/>
<path d="M50.7 151.1L52.6 154.5H48.7Z"/>
<path d="M49.3 151.1L51.3 154.5H47.4Z"/>
<path d="M60.1 159.7L62.1 163.1H58.2Z"/>
<path d="M65.7 148.9L67.6 152.3H63.7Z"/>
<path d="M68.1 160.5L70.1 163.9H66.2Z"/>
<path d="M54.9 158.4L56.8 161.8H52.9Z"/>
<path d="M62.0 162.0L63.9 165.4H60.0Z"/>
<path d="M62.4 151.2L64.4 154.6H60.5Z"/>
<path d="M59.6 139.1L61.6 142.5H57.7Z"/>
<path d="M61.0 159.1L62.9 162.5H59.0Z"/>
<path d="M48.0 154.8L49.9 158.2H46.0Z"/>
<path d="M67.5 138.1L69.4 141.5H65.5Z"/>
<path d="M67.6 152.3L69.5 155.7H65.6Z"/>
<path d="M45.0 158.5L46.9 161.9H43.0Z"/>
<path d="M58.1 146.2L60.0 149.6H56.1Z"/>
<path d="M46.1 159.9L48.1 163.4H44.2Z"/>
<path d="M46.1 152.0L48.1 155.4H44.2Z"/>
<path d="M66.0 149.0L68.0 152.4H64.1Z"/>
<path d="M51.9 151.3L53.9 154.7H50.0Z"/>
<path d="M57.4 158.1L59.3 161.5H55.4Z"/>
<path d="M48.6 143.9L50.6 147.3H46.7Z"/>
<path d="M73.2 171.3L75.2 174.7H71.3Z"/>
<path d="M41.9 165.5L43.8 168.9H39.9Z"/>
<path d="M50.8 156.5L52.7 159.9H48.8Z"/>
<path d="M55.4 159.9L57.4 163.3H53.5Z"/>
<path d="M41.0 154.2L42.9 157.7H39.0Z"/>
<path d="M51.9 145.8L53.8 149.2H49.9Z"/>
<path d="M65.6 142.4L67.5 145.9H63.6Z"/>
<path d="M51.8 150.8L53.7 154.2H49.8Z"/>
<path d="M65.0 150.0L66.9 153.4H63.0Z"/>
<path d="M64.6 155.3L66.6 158.7H62.7Z"/>
<path d="M65.5 150.3L67.4 153.7H63.5Z"/>
<path d="M65.9 157.6L67.9 161.0H64.0Z"/>
<path d="M40.3 168.4L42.3 171.8H38.4Z"/>
<path d="M49.5 166.6L51.5 170.0H47.6Z"/>
<path d="M65.7 147.6L67.6 151.0H63.7Z"/>
<path d="M60.2 168.4L62.2 171.8H58.3Z"/>
<path d="M65.2 142.6L67.1 146.0H63.2Z"/>
<path d="M65.7 154.5L67.7 157.9H63.8Z"/>
<path d="M49.7 156.7L51.6 160.1H47.7Z"/>
<path d="M42.0 163.7L44.0 167.1H40.1Z"/>
<path d="M54.9 142.5L56.9 146.0H53.0Z"/>
<path d="M45.9 161.3L47.9 164.7H44.0Z"/>
<path d="M53.6 169.5L55.5 173.0H51.6Z"/>
<path d="M73.0 161.3L75.0 164.7H71.1Z"/>
<path d="M60.1 141.6L62.1 145.0H58.2Z"/>
<path d="M64.6 156.7L66.5 160.1H62.6Z"/>
<path d="M69.6 157.5L71.6 160.9H67.7Z"/>
<path d="M57.2 163.9L59.1 167.3H55.2Z"/>
<path d="M65.0 148.9L67.0 152.3H63.1Z"/>
<path d="M68.5 147.4L70.4 150.8H66.5Z"/>
<path d="M57.2 144.5L59.1 148.0H55.2Z"/>
<path d="M45.8 157.2L47.8 160.6H43.9Z"/>
<path d="M45.1 160.7L47.0 164.1H43.1Z"/>
<path d="M73.3 160.2L75.2 163.6H71.3Z"/>
<path d="M52.2 153.3L54.2 156.8H50.3Z"/>
<path d="M50.6 155.7L52.5 159.1H48.6Z"/>
<path d="M69.9 158.5L71.9 161.9H68.0Z"/>
<path d="M61.5 155.5L63.5 158.9H59.6Z"/>
<path d="M47.9 149.7L49.9 153.1H46.0Z"/>
<path d="M66.8 151.4L68.7 154.9H64.8Z"/>
<path d="M50.4 159.8L52.3 163.2H48.4Z"/>
<path d="M53.6 155.4L55.6 158.8H51.7Z"/>
<path d="M45.8 151.0L47.7 154.4H43.8Z"/>
<path d="M64.2 154.8L66.2 158.2H62.3Z"/>
<path d="M48.5 149.9L50.4 153.3H46.5Z"/>
<path d="M55.2 142.8L57.2 146.3H53.3Z"/>
<path d="M47.7 156.5L49.6 159.9H45.7Z"/>
<path d="M69.1 158.9L71.1 162.3H67.2Z"/>
<path d="M57.2 170.3L59.1 173.7H55.2Z"/>
<path d="M64.8 163.2L66.7 166.6H62.8Z"/>
<path d="M57.5 148.6L59.5 152.0H55.6Z"/>
<path d="M55.5 160.2L57.4 163.6H53.5Z"/>
<path d="M62.9 168.6L64.9 172.0H61.0Z"/>
<path d="M55.7 161.9L57.6 165.3H53.7Z"/>
<path d="M62.5 163.9L64.4 167.3H60.5Z"/>
<path d="M59.3 172.0L61.3 175.4H57.4Z"/>
<path d="M61.2 160.9L63.2 164.3H59.3Z"/>
<path d="M60.4 161.0L62.3 164.4H58.4Z"/>
<path d="M59.8 146.0L61.8 149.4H57.9Z"/>
<path d="M63.3 157.6L65.3 161.0H61.4Z"/>
<path d="M62.9 152.2L64.8 155.6H60.9Z"/>
<path d="M66.3 159.6L68.3 163.1H64.4Z"/>
<path d="M56.6 144.0L58.5 147.4H54.6Z"/>
<path d="M58.5 155.3L60.4 158.7H56.5Z"/>
<path d="M57.4 141.3L59.4 144.7H55.5Z"/>
<path d="M59.5 165.0L61.5 168.4H57.6Z"/>
<path d="M49.2 148.8L51.2 152.2H47.3Z"/>
<path d="M65.5 152.2L67.5 155.6H63.6Z"/>
<path d="M66.9 151.0L68.9 154.4H65.0Z"/>
<path d="M48.0 159.7L49.9 163.1H46.0Z"/>
<path d="M61.8 149.2L63.7 152.6H59.8Z"/>
<path d="M46.9 148.9L48.8 152.3H44.9Z"/>
<path d="M50.4 162.2L52.4 165.6H48.5Z"/>
<path d="M51.8 165.6L53.7 169.0H49.8Z"/>
<path d="M63.8 151.6L65.8 155.1H61.9Z"/>
<path d="M61.6 158.5L63.6 161.9H59.7Z"/>
<path d="M47.1 169.9L49.0 173.3H45.1Z"/>
<path d="M48.4 148.2L50.3 151.6H46.4Z"/>
<path d="M45.2 155.4L47.2 158.8H43.3Z"/>
<path d="M39.1 146.5L41.0 149.9H37.1Z"/>
<path d="M45.9 158.2L47.8 161.6H43.9Z"/>
<path d="M58.0 152.5L60.0 155.9H56.1Z"/>
<path d="M56.9 142.2L58.8 145.6H54.9Z"/>
<path d="M60.3 151.9L62.2 155.3H58.3Z"/>
<path d="M50.2 165.8L52.1 169.2H48.2Z"/>
</g>
<rect x="29.3" y="157.43" width="77.3" height="2.6" fill="#ffe600"/>
<rect x="45.4" y="196.6" width="58.6" height="8.1" rx="0.8" fill="#fff" stroke="#555" stroke-width="0.7"/>
<g fill="#000">
<path d="M51.8 199.2L53.8 202.7H49.8Z"/>
</g>
<text x="56.9" y="202.9" font-size="6.3" font-weight="bold" fill="#111" stroke="#111" stroke-width="0.12">IDC (211 cells)</text>
<rect x="134.5" y="123.75" width="76.00" height="101.75" fill="#fff"/>
<path d="M134.5 123.75H210.5V225.5" fill="none" stroke="#8c8c8c" stroke-width="0.95"/>
<path d="M134.5 123.35V225.5H210.9" fill="none" stroke="#5a5a5a" stroke-width="0.85"/>
<line x1="132.8" y1="123.75" x2="134.5" y2="123.75" stroke="#5a5a5a" stroke-width="0.8"/>
<text x="131.5" y="125.5" font-size="6.3" text-anchor="end" fill="#222">30.0</text>
<line x1="132.8" y1="149.19" x2="134.5" y2="149.19" stroke="#5a5a5a" stroke-width="0.8"/>
<text x="131.5" y="151.0" font-size="6.3" text-anchor="end" fill="#222">26.0</text>
<line x1="132.8" y1="174.62" x2="134.5" y2="174.62" stroke="#5a5a5a" stroke-width="0.8"/>
<text x="131.5" y="176.4" font-size="6.3" text-anchor="end" fill="#222">22.0</text>
<line x1="132.8" y1="200.06" x2="134.5" y2="200.06" stroke="#5a5a5a" stroke-width="0.8"/>
<text x="131.5" y="201.9" font-size="6.3" text-anchor="end" fill="#222">18.0</text>
<line x1="132.8" y1="225.50" x2="134.5" y2="225.50" stroke="#5a5a5a" stroke-width="0.8"/>
<text x="131.5" y="227.3" font-size="6.3" text-anchor="end" fill="#222">14.0</text>
<line x1="132.8" y1="163.81" x2="134.5" y2="163.81" stroke="#5a5a5a" stroke-width="0.8"/>
<text x="131.5" y="165.6" font-size="6.3" text-anchor="end" fill="#222">23.7</text>
<line x1="134.50" y1="225.5" x2="134.50" y2="227.2" stroke="#5a5a5a" stroke-width="0.8"/>
<text x="134.5" y="233.6" font-size="6.3" text-anchor="middle" fill="#222">8</text>
<line x1="145.36" y1="225.5" x2="145.36" y2="227.2" stroke="#5a5a5a" stroke-width="0.8"/>
<text x="145.4" y="233.6" font-size="6.3" text-anchor="middle" fill="#222">10</text>
<line x1="156.21" y1="225.5" x2="156.21" y2="227.2" stroke="#5a5a5a" stroke-width="0.8"/>
<text x="156.2" y="233.6" font-size="6.3" text-anchor="middle" fill="#222">12</text>
<line x1="167.07" y1="225.5" x2="167.07" y2="227.2" stroke="#5a5a5a" stroke-width="0.8"/>
<text x="167.1" y="233.6" font-size="6.3" text-anchor="middle" fill="#222">14</text>
<line x1="177.93" y1="225.5" x2="177.93" y2="227.2" stroke="#5a5a5a" stroke-width="0.8"/>
<text x="177.9" y="233.6" font-size="6.3" text-anchor="middle" fill="#222">16</text>
<line x1="188.79" y1="225.5" x2="188.79" y2="227.2" stroke="#5a5a5a" stroke-width="0.8"/>
<text x="188.8" y="233.6" font-size="6.3" text-anchor="middle" fill="#222">18</text>
<line x1="199.64" y1="225.5" x2="199.64" y2="227.2" stroke="#5a5a5a" stroke-width="0.8"/>
<text x="199.6" y="233.6" font-size="6.3" text-anchor="middle" fill="#222">20</text>
<line x1="210.50" y1="225.5" x2="210.50" y2="227.2" stroke="#5a5a5a" stroke-width="0.8"/>
<text x="210.5" y="233.6" font-size="6.3" text-anchor="middle" fill="#222">22</text>
<text x="172.5" y="244.7" font-size="7.0" font-weight="bold" text-anchor="middle" fill="#111" stroke="#111" stroke-width="0.15">Cell Size (μm)</text>
<text transform="translate(115.4 174.7) rotate(-90)" font-size="6.9" font-weight="bold" text-anchor="middle" fill="#111" stroke="#111" stroke-width="0.15">Fpol (×10<tspan font-size="5" dy="-2.2">-2</tspan><tspan dy="2.2">)</tspan></text>
<text x="111.2" y="130.6" font-size="7.9" font-weight="bold" fill="#111" stroke="#111" stroke-width="0.2">G</text>
<g fill="#000">
<path d="M145.5 149.0L147.4 152.4H143.5Z"/>
<path d="M158.7 145.6L160.7 149.1H156.8Z"/>
<path d="M156.3 150.1L158.3 153.5H154.4Z"/>
<path d="M158.7 150.1L160.7 153.5H156.8Z"/>
<path d="M164.3 147.4L166.2 150.8H162.3Z"/>
<path d="M161.4 152.8L163.4 156.2H159.5Z"/>
<path d="M159.5 155.4L161.5 158.8H157.6Z"/>
<path d="M172.3 151.2L174.2 154.6H170.3Z"/>
<path d="M183.1 143.7L185.1 147.1H181.2Z"/>
<path d="M156.3 158.9L158.3 162.3H154.4Z"/>
<path d="M161.1 158.1L163.1 161.5H159.2Z"/>
<path d="M164.3 158.1L166.2 161.5H162.3Z"/>
<path d="M170.7 158.1L172.6 161.5H168.7Z"/>
<path d="M175.5 159.7L177.4 163.1H173.5Z"/>
<path d="M183.1 158.6L185.1 162.0H181.2Z"/>
<path d="M193.8 159.2L195.7 162.6H191.8Z"/>
<path d="M196.7 159.7L198.6 163.1H194.7Z"/>
<path d="M205.0 158.1L206.9 161.5H203.0Z"/>
<path d="M147.5 164.5L149.5 167.9H145.6Z"/>
<path d="M149.9 165.3L151.9 168.7H148.0Z"/>
<path d="M152.3 164.5L154.3 167.9H150.4Z"/>
<path d="M154.7 164.5L156.7 167.9H152.8Z"/>
<path d="M157.9 164.5L159.9 167.9H156.0Z"/>
<path d="M159.5 165.3L161.5 168.7H157.6Z"/>
<path d="M169.1 164.5L171.0 167.9H167.1Z"/>
<path d="M175.1 162.9L177.1 166.3H173.2Z"/>
<path d="M183.1 165.6L185.1 169.0H181.2Z"/>
<path d="M193.8 166.5L195.7 169.9H191.8Z"/>
<path d="M204.6 164.0L206.6 167.4H202.7Z"/>
<path d="M147.5 167.7L149.5 171.1H145.6Z"/>
<path d="M149.9 167.7L151.9 171.1H148.0Z"/>
<path d="M155.5 167.7L157.5 171.1H153.6Z"/>
<path d="M158.7 167.7L160.7 171.1H156.8Z"/>
<path d="M161.1 168.5L163.1 171.9H159.2Z"/>
<path d="M147.5 171.3L149.5 174.7H145.6Z"/>
<path d="M155.5 170.8L157.5 174.3H153.6Z"/>
<path d="M159.5 170.0L161.5 173.5H157.6Z"/>
<path d="M164.3 171.6L166.2 175.1H162.3Z"/>
<path d="M164.3 172.9L166.2 176.3H162.3Z"/>
<path d="M153.9 175.1L155.9 178.6H152.0Z"/>
<path d="M147.9 176.4L149.8 179.8H145.9Z"/>
<path d="M161.9 160.5L163.8 163.9H159.9Z"/>
<path d="M163.2 162.1L165.1 165.5H161.2Z"/>
<path d="M157.4 162.1L159.4 165.5H155.5Z"/>
<path d="M153.9 166.9L155.9 170.3H152.0Z"/>
<path d="M150.4 163.7L152.4 167.1H148.5Z"/>
<path d="M162.7 170.0L164.6 173.5H160.7Z"/>
<path d="M157.9 169.2L159.9 172.7H156.0Z"/>
<path d="M164.0 148.0L165.9 151.4H162.0Z"/>
<path d="M157.1 151.2L159.1 154.6H155.2Z"/>
<path d="M160.3 157.3L162.3 160.7H158.4Z"/>
<path d="M156.3 170.0L158.3 173.5H154.4Z"/>
<path d="M148.8 166.1L150.8 169.5H146.9Z"/>
<path d="M147.9 169.2L149.8 172.7H145.9Z"/>
<path d="M168.3 162.1L170.2 165.5H166.3Z"/>
<path d="M162.7 166.5L164.6 169.9H160.7Z"/>
<path d="M160.3 162.9L162.3 166.3H158.4Z"/>
<path d="M158.4 166.5L160.3 169.9H156.4Z"/>
<path d="M153.9 163.3L155.9 166.8H152.0Z"/>
<path d="M151.5 166.9L153.5 170.3H149.6Z"/>
<path d="M149.1 170.0L151.1 173.5H147.2Z"/>
<path d="M161.9 172.0L163.8 175.4H159.9Z"/>
<path d="M163.5 158.9L165.4 162.3H161.5Z"/>
</g>
<rect x="134.4" y="162.51" width="76.2" height="2.6" fill="#ffe600"/>
<rect x="149.6" y="196.5" width="58.6" height="8.2" rx="0.8" fill="#fff" stroke="#555" stroke-width="0.7"/>
<g fill="#000">
<path d="M156.0 199.2L157.9 202.6H154.1Z"/>
</g>
<text x="161.1" y="202.9" font-size="6.3" font-weight="bold" fill="#111" stroke="#111" stroke-width="0.12">ILC (63 cells)</text>
<rect x="238.6" y="123.75" width="75.95" height="101.75" fill="#fff"/>
<path d="M238.6 123.75H314.55V225.5" fill="none" stroke="#8c8c8c" stroke-width="0.95"/>
<path d="M238.6 123.35V225.5H314.95" fill="none" stroke="#5a5a5a" stroke-width="0.85"/>
<line x1="236.9" y1="123.75" x2="238.6" y2="123.75" stroke="#5a5a5a" stroke-width="0.8"/>
<text x="235.7" y="125.5" font-size="6.3" text-anchor="end" fill="#222">30.0</text>
<line x1="236.9" y1="149.19" x2="238.6" y2="149.19" stroke="#5a5a5a" stroke-width="0.8"/>
<text x="235.7" y="150.9" font-size="6.3" text-anchor="end" fill="#222">26.0</text>
<line x1="236.9" y1="174.62" x2="238.6" y2="174.62" stroke="#5a5a5a" stroke-width="0.8"/>
<text x="235.7" y="176.3" font-size="6.3" text-anchor="end" fill="#222">22.0</text>
<line x1="236.9" y1="200.06" x2="238.6" y2="200.06" stroke="#5a5a5a" stroke-width="0.8"/>
<text x="235.7" y="201.8" font-size="6.3" text-anchor="end" fill="#222">18.0</text>
<line x1="236.9" y1="225.50" x2="238.6" y2="225.50" stroke="#5a5a5a" stroke-width="0.8"/>
<text x="235.7" y="227.2" font-size="6.3" text-anchor="end" fill="#222">14.0</text>
<line x1="236.9" y1="187.98" x2="238.6" y2="187.98" stroke="#5a5a5a" stroke-width="0.8"/>
<text x="235.7" y="189.7" font-size="6.3" text-anchor="end" fill="#222">19.9</text>
<line x1="238.60" y1="225.5" x2="238.60" y2="227.2" stroke="#5a5a5a" stroke-width="0.8"/>
<text x="238.6" y="233.6" font-size="6.3" text-anchor="middle" fill="#222">8</text>
<line x1="249.45" y1="225.5" x2="249.45" y2="227.2" stroke="#5a5a5a" stroke-width="0.8"/>
<text x="249.4" y="233.6" font-size="6.3" text-anchor="middle" fill="#222">10</text>
<line x1="260.30" y1="225.5" x2="260.30" y2="227.2" stroke="#5a5a5a" stroke-width="0.8"/>
<text x="260.3" y="233.6" font-size="6.3" text-anchor="middle" fill="#222">12</text>
<line x1="271.15" y1="225.5" x2="271.15" y2="227.2" stroke="#5a5a5a" stroke-width="0.8"/>
<text x="271.1" y="233.6" font-size="6.3" text-anchor="middle" fill="#222">14</text>
<line x1="282.00" y1="225.5" x2="282.00" y2="227.2" stroke="#5a5a5a" stroke-width="0.8"/>
<text x="282.0" y="233.6" font-size="6.3" text-anchor="middle" fill="#222">16</text>
<line x1="292.85" y1="225.5" x2="292.85" y2="227.2" stroke="#5a5a5a" stroke-width="0.8"/>
<text x="292.9" y="233.6" font-size="6.3" text-anchor="middle" fill="#222">18</text>
<line x1="303.70" y1="225.5" x2="303.70" y2="227.2" stroke="#5a5a5a" stroke-width="0.8"/>
<text x="303.7" y="233.6" font-size="6.3" text-anchor="middle" fill="#222">20</text>
<line x1="314.55" y1="225.5" x2="314.55" y2="227.2" stroke="#5a5a5a" stroke-width="0.8"/>
<text x="314.6" y="233.6" font-size="6.3" text-anchor="middle" fill="#222">22</text>
<text x="276.6" y="244.7" font-size="7.0" font-weight="bold" text-anchor="middle" fill="#111" stroke="#111" stroke-width="0.15">Cell Size (μm)</text>
<text transform="translate(219.6 174.7) rotate(-90)" font-size="6.9" font-weight="bold" text-anchor="middle" fill="#111" stroke="#111" stroke-width="0.15">Fpol (×10<tspan font-size="5" dy="-2.2">-2</tspan><tspan dy="2.2">)</tspan></text>
<text x="216.6" y="130.5" font-size="8.3" font-weight="bold" fill="#111" stroke="#111" stroke-width="0.2">H</text>
<g fill="#000">
<circle cx="245.8" cy="175.7" r="1.6"/>
<circle cx="247.7" cy="174.9" r="1.6"/>
<circle cx="252.1" cy="172.2" r="1.6"/>
<circle cx="260.7" cy="170.3" r="1.6"/>
<circle cx="276.5" cy="170.3" r="1.6"/>
<circle cx="267.5" cy="174.1" r="1.6"/>
<circle cx="245.8" cy="180.3" r="1.6"/>
<circle cx="248.0" cy="181.1" r="1.6"/>
<circle cx="249.9" cy="179.5" r="1.6"/>
<circle cx="251.8" cy="181.7" r="1.6"/>
<circle cx="254.0" cy="183.0" r="1.6"/>
<circle cx="257.5" cy="181.1" r="1.6"/>
<circle cx="260.7" cy="181.1" r="1.6"/>
<circle cx="245.8" cy="184.4" r="1.6"/>
<circle cx="248.6" cy="184.9" r="1.6"/>
<circle cx="250.7" cy="184.4" r="1.6"/>
<circle cx="252.6" cy="185.7" r="1.6"/>
<circle cx="254.5" cy="184.9" r="1.6"/>
<circle cx="247.2" cy="187.1" r="1.6"/>
<circle cx="249.9" cy="187.9" r="1.6"/>
<circle cx="251.8" cy="187.1" r="1.6"/>
<circle cx="254.0" cy="187.9" r="1.6"/>
<circle cx="259.4" cy="185.7" r="1.6"/>
<circle cx="260.7" cy="188.5" r="1.6"/>
<circle cx="262.1" cy="189.8" r="1.6"/>
<circle cx="271.6" cy="183.8" r="1.6"/>
<circle cx="274.3" cy="181.7" r="1.6"/>
<circle cx="276.2" cy="184.4" r="1.6"/>
<circle cx="278.4" cy="184.9" r="1.6"/>
<circle cx="281.1" cy="187.1" r="1.6"/>
<circle cx="282.4" cy="189.3" r="1.6"/>
<circle cx="286.5" cy="191.2" r="1.6"/>
<circle cx="291.9" cy="192.5" r="1.6"/>
<circle cx="300.9" cy="181.7" r="1.6"/>
<circle cx="302.8" cy="184.9" r="1.6"/>
<circle cx="298.7" cy="195.2" r="1.6"/>
<circle cx="304.1" cy="203.4" r="1.6"/>
<circle cx="247.2" cy="191.2" r="1.6"/>
<circle cx="250.7" cy="192.0" r="1.6"/>
<circle cx="252.6" cy="193.9" r="1.6"/>
<circle cx="254.5" cy="195.2" r="1.6"/>
<circle cx="256.7" cy="194.7" r="1.6"/>
<circle cx="260.7" cy="191.2" r="1.6"/>
<circle cx="266.2" cy="192.5" r="1.6"/>
<circle cx="271.6" cy="190.4" r="1.6"/>
<circle cx="278.4" cy="192.5" r="1.6"/>
<circle cx="277.0" cy="195.8" r="1.6"/>
<circle cx="275.7" cy="197.9" r="1.6"/>
<circle cx="263.5" cy="196.6" r="1.6"/>
<circle cx="249.1" cy="200.7" r="1.6"/>
<circle cx="255.3" cy="207.4" r="1.6"/>
<circle cx="263.5" cy="201.2" r="1.6"/>
<circle cx="262.1" cy="218.3" r="1.6"/>
<circle cx="258.8" cy="196.6" r="1.6"/>
<circle cx="252.1" cy="196.6" r="1.6"/>
<circle cx="246.7" cy="178.4" r="1.6"/>
<circle cx="249.1" cy="182.2" r="1.6"/>
<circle cx="253.2" cy="183.8" r="1.6"/>
<circle cx="256.1" cy="187.1" r="1.6"/>
<circle cx="258.0" cy="189.3" r="1.6"/>
<circle cx="251.3" cy="179.8" r="1.6"/>
<circle cx="252.9" cy="182.2" r="1.6"/>
<circle cx="255.1" cy="186.3" r="1.6"/>
<circle cx="248.0" cy="189.3" r="1.6"/>
<circle cx="250.4" cy="186.0" r="1.6"/>
<circle cx="253.7" cy="190.4" r="1.6"/>
<circle cx="261.6" cy="184.9" r="1.6"/>
<circle cx="264.8" cy="194.7" r="1.6"/>
<circle cx="272.9" cy="186.0" r="1.6"/>
<circle cx="279.7" cy="188.5" r="1.6"/>
<circle cx="251.3" cy="189.3" r="1.6"/>
<circle cx="255.6" cy="184.4" r="1.6"/>
<circle cx="259.9" cy="187.1" r="1.6"/>
</g>
<rect x="238.5" y="186.68" width="76.2" height="2.6" fill="#10a010"/>
<rect x="259.8" y="146.2" width="53.4" height="8.2" rx="0.8" fill="#fff" stroke="#555" stroke-width="0.7"/>
<g fill="#000">
<circle cx="265.7" cy="150.8" r="1.6"/>
</g>
<text x="271.0" y="152.6" font-size="6.3" font-weight="bold" fill="#111" stroke="#111" stroke-width="0.12">FA (79 cells)</text>
<rect x="344.1" y="123.75" width="75.40" height="102.65" fill="#fff"/>
<path d="M344.1 123.75H419.5V226.4" fill="none" stroke="#8c8c8c" stroke-width="0.95"/>
<path d="M344.1 123.35V226.4H419.9" fill="none" stroke="#5a5a5a" stroke-width="0.85"/>
<line x1="342.4" y1="123.75" x2="344.1" y2="123.75" stroke="#5a5a5a" stroke-width="0.8"/>
<text x="340.9" y="126.0" font-size="6.3" text-anchor="end" fill="#222">30.0</text>
<line x1="342.4" y1="149.41" x2="344.1" y2="149.41" stroke="#5a5a5a" stroke-width="0.8"/>
<text x="340.9" y="151.7" font-size="6.3" text-anchor="end" fill="#222">26.0</text>
<line x1="342.4" y1="175.07" x2="344.1" y2="175.07" stroke="#5a5a5a" stroke-width="0.8"/>
<text x="340.9" y="177.4" font-size="6.3" text-anchor="end" fill="#222">22.0</text>
<line x1="342.4" y1="200.74" x2="344.1" y2="200.74" stroke="#5a5a5a" stroke-width="0.8"/>
<text x="340.9" y="203.0" font-size="6.3" text-anchor="end" fill="#222">18.0</text>
<line x1="342.4" y1="226.40" x2="344.1" y2="226.40" stroke="#5a5a5a" stroke-width="0.8"/>
<text x="340.9" y="228.7" font-size="6.3" text-anchor="end" fill="#222">14.0</text>
<line x1="342.4" y1="193.68" x2="344.1" y2="193.68" stroke="#5a5a5a" stroke-width="0.8"/>
<text x="340.9" y="196.0" font-size="6.3" text-anchor="end" fill="#222">19.1</text>
<line x1="344.10" y1="226.4" x2="344.10" y2="228.1" stroke="#5a5a5a" stroke-width="0.8"/>
<text x="344.1" y="234.0" font-size="6.3" text-anchor="middle" fill="#222">8</text>
<line x1="354.87" y1="226.4" x2="354.87" y2="228.1" stroke="#5a5a5a" stroke-width="0.8"/>
<text x="354.9" y="234.0" font-size="6.3" text-anchor="middle" fill="#222">10</text>
<line x1="365.64" y1="226.4" x2="365.64" y2="228.1" stroke="#5a5a5a" stroke-width="0.8"/>
<text x="365.6" y="234.0" font-size="6.3" text-anchor="middle" fill="#222">12</text>
<line x1="376.41" y1="226.4" x2="376.41" y2="228.1" stroke="#5a5a5a" stroke-width="0.8"/>
<text x="376.4" y="234.0" font-size="6.3" text-anchor="middle" fill="#222">14</text>
<line x1="387.19" y1="226.4" x2="387.19" y2="228.1" stroke="#5a5a5a" stroke-width="0.8"/>
<text x="387.2" y="234.0" font-size="6.3" text-anchor="middle" fill="#222">16</text>
<line x1="397.96" y1="226.4" x2="397.96" y2="228.1" stroke="#5a5a5a" stroke-width="0.8"/>
<text x="398.0" y="234.0" font-size="6.3" text-anchor="middle" fill="#222">18</text>
<line x1="408.73" y1="226.4" x2="408.73" y2="228.1" stroke="#5a5a5a" stroke-width="0.8"/>
<text x="408.7" y="234.0" font-size="6.3" text-anchor="middle" fill="#222">20</text>
<line x1="419.50" y1="226.4" x2="419.50" y2="228.1" stroke="#5a5a5a" stroke-width="0.8"/>
<text x="419.5" y="234.0" font-size="6.3" text-anchor="middle" fill="#222">22</text>
<text x="381.8" y="244.7" font-size="7.0" font-weight="bold" text-anchor="middle" fill="#111" stroke="#111" stroke-width="0.15">Cell Size (μm)</text>
<text transform="translate(325.1 174.7) rotate(-90)" font-size="6.9" font-weight="bold" text-anchor="middle" fill="#111" stroke="#111" stroke-width="0.15">Fpol (×10<tspan font-size="5" dy="-2.2">-2</tspan><tspan dy="2.2">)</tspan></text>
<text x="321.4" y="130.7" font-size="8.3" font-weight="bold" fill="#111" stroke="#111" stroke-width="0.2">I</text>
<g fill="#000">
<circle cx="351.7" cy="168.7" r="1.6"/>
<circle cx="355.4" cy="176.8" r="1.6"/>
<circle cx="371.2" cy="174.1" r="1.6"/>
<circle cx="391.5" cy="178.4" r="1.6"/>
<circle cx="389.6" cy="184.4" r="1.6"/>
<circle cx="409.1" cy="189.3" r="1.6"/>
<circle cx="402.9" cy="192.5" r="1.6"/>
<circle cx="411.8" cy="199.8" r="1.6"/>
<circle cx="405.0" cy="201.2" r="1.6"/>
<circle cx="397.7" cy="202.0" r="1.6"/>
<circle cx="392.3" cy="202.0" r="1.6"/>
<circle cx="383.4" cy="206.6" r="1.6"/>
<circle cx="362.5" cy="210.9" r="1.6"/>
<circle cx="363.6" cy="214.2" r="1.6"/>
<circle cx="373.1" cy="219.1" r="1.6"/>
<circle cx="361.7" cy="209.3" r="1.6"/>
<circle cx="352.2" cy="181.1" r="1.6"/>
<circle cx="354.9" cy="180.3" r="1.6"/>
<circle cx="357.6" cy="181.7" r="1.6"/>
<circle cx="352.7" cy="187.1" r="1.6"/>
<circle cx="355.2" cy="186.6" r="1.6"/>
<circle cx="380.7" cy="178.4" r="1.6"/>
<circle cx="377.9" cy="179.5" r="1.6"/>
<circle cx="374.7" cy="179.0" r="1.6"/>
<circle cx="369.8" cy="179.5" r="1.6"/>
<circle cx="365.7" cy="181.1" r="1.6"/>
<circle cx="372.0" cy="176.3" r="1.6"/>
<circle cx="382.0" cy="183.0" r="1.6"/>
<circle cx="383.4" cy="187.1" r="1.6"/>
<circle cx="386.1" cy="192.0" r="1.6"/>
<circle cx="388.8" cy="197.9" r="1.6"/>
<circle cx="384.7" cy="200.1" r="1.6"/>
<circle cx="352.2" cy="197.9" r="1.6"/>
<circle cx="354.1" cy="200.1" r="1.6"/>
<circle cx="357.6" cy="203.4" r="1.6"/>
<circle cx="369.8" cy="208.2" r="1.6"/>
<circle cx="374.7" cy="207.4" r="1.6"/>
<circle cx="379.8" cy="199.9" r="1.6"/>
<circle cx="357.4" cy="179.4" r="1.6"/>
<circle cx="368.4" cy="198.4" r="1.6"/>
<circle cx="368.0" cy="182.8" r="1.6"/>
<circle cx="365.0" cy="203.2" r="1.6"/>
<circle cx="357.3" cy="200.4" r="1.6"/>
<circle cx="373.8" cy="196.5" r="1.6"/>
<circle cx="375.9" cy="189.2" r="1.6"/>
<circle cx="368.2" cy="205.8" r="1.6"/>
<circle cx="365.9" cy="190.1" r="1.6"/>
<circle cx="357.1" cy="189.8" r="1.6"/>
<circle cx="375.7" cy="201.9" r="1.6"/>
<circle cx="374.9" cy="197.5" r="1.6"/>
<circle cx="374.3" cy="195.4" r="1.6"/>
<circle cx="378.0" cy="192.1" r="1.6"/>
<circle cx="378.6" cy="192.6" r="1.6"/>
<circle cx="355.5" cy="184.1" r="1.6"/>
<circle cx="367.6" cy="189.9" r="1.6"/>
<circle cx="358.9" cy="187.8" r="1.6"/>
<circle cx="370.9" cy="195.9" r="1.6"/>
<circle cx="376.6" cy="187.1" r="1.6"/>
<circle cx="372.6" cy="200.3" r="1.6"/>
<circle cx="372.3" cy="205.4" r="1.6"/>
<circle cx="365.2" cy="193.1" r="1.6"/>
<circle cx="370.8" cy="190.3" r="1.6"/>
<circle cx="368.9" cy="194.7" r="1.6"/>
<circle cx="369.0" cy="189.6" r="1.6"/>
<circle cx="365.5" cy="192.6" r="1.6"/>
<circle cx="356.2" cy="194.4" r="1.6"/>
<circle cx="359.9" cy="191.4" r="1.6"/>
<circle cx="360.0" cy="193.8" r="1.6"/>
<circle cx="366.1" cy="191.3" r="1.6"/>
<circle cx="363.0" cy="193.9" r="1.6"/>
<circle cx="382.9" cy="180.6" r="1.6"/>
<circle cx="373.7" cy="194.7" r="1.6"/>
<circle cx="366.0" cy="184.3" r="1.6"/>
<circle cx="382.7" cy="194.4" r="1.6"/>
<circle cx="377.8" cy="190.5" r="1.6"/>
<circle cx="362.8" cy="200.5" r="1.6"/>
<circle cx="375.6" cy="191.0" r="1.6"/>
<circle cx="367.5" cy="197.4" r="1.6"/>
<circle cx="362.5" cy="187.3" r="1.6"/>
<circle cx="368.9" cy="200.0" r="1.6"/>
<circle cx="376.6" cy="194.4" r="1.6"/>
<circle cx="380.7" cy="192.1" r="1.6"/>
<circle cx="365.1" cy="209.2" r="1.6"/>
<circle cx="365.1" cy="197.2" r="1.6"/>
<circle cx="374.0" cy="193.9" r="1.6"/>
<circle cx="371.2" cy="197.9" r="1.6"/>
<circle cx="374.0" cy="189.1" r="1.6"/>
<circle cx="369.4" cy="202.7" r="1.6"/>
<circle cx="375.5" cy="190.2" r="1.6"/>
<circle cx="369.9" cy="186.3" r="1.6"/>
<circle cx="358.4" cy="189.5" r="1.6"/>
<circle cx="382.9" cy="188.9" r="1.6"/>
<circle cx="352.6" cy="192.4" r="1.6"/>
<circle cx="363.6" cy="198.2" r="1.6"/>
<circle cx="379.8" cy="190.9" r="1.6"/>
<circle cx="370.4" cy="187.0" r="1.6"/>
<circle cx="379.6" cy="188.1" r="1.6"/>
<circle cx="361.5" cy="194.3" r="1.6"/>
<circle cx="368.9" cy="196.3" r="1.6"/>
<circle cx="373.3" cy="203.4" r="1.6"/>
<circle cx="373.5" cy="197.3" r="1.6"/>
<circle cx="359.0" cy="195.9" r="1.6"/>
<circle cx="358.1" cy="201.5" r="1.6"/>
<circle cx="368.9" cy="199.8" r="1.6"/>
<circle cx="365.2" cy="194.7" r="1.6"/>
<circle cx="370.1" cy="197.0" r="1.6"/>
<circle cx="368.5" cy="189.1" r="1.6"/>
<circle cx="366.2" cy="188.7" r="1.6"/>
<circle cx="361.6" cy="184.8" r="1.6"/>
<circle cx="357.1" cy="206.1" r="1.6"/>
<circle cx="363.1" cy="185.6" r="1.6"/>
<circle cx="377.8" cy="195.1" r="1.6"/>
<circle cx="368.3" cy="201.0" r="1.6"/>
<circle cx="385.1" cy="187.3" r="1.6"/>
</g>
<rect x="344.0" y="192.38" width="75.6" height="2.6" fill="#10a010"/>
<rect x="358.4" y="146.4" width="59.2" height="8.2" rx="0.8" fill="#fff" stroke="#555" stroke-width="0.7"/>
<g fill="#000">
<circle cx="365.0" cy="150.9" r="1.6"/>
</g>
<text x="370.0" y="152.8" font-size="6.3" font-weight="bold" fill="#111" stroke="#111" stroke-width="0.12">IDP (114 cells)</text>
<rect x="449.7" y="123.75" width="75.80" height="101.75" fill="#fff"/>
<path d="M449.7 123.75H525.5V225.5" fill="none" stroke="#8c8c8c" stroke-width="0.95"/>
<path d="M449.7 123.35V225.5H525.9" fill="none" stroke="#5a5a5a" stroke-width="0.85"/>
<line x1="448.0" y1="123.75" x2="449.7" y2="123.75" stroke="#5a5a5a" stroke-width="0.8"/>
<text x="446.7" y="125.3" font-size="6.3" text-anchor="end" fill="#222">30.0</text>
<line x1="448.0" y1="149.19" x2="449.7" y2="149.19" stroke="#5a5a5a" stroke-width="0.8"/>
<text x="446.7" y="150.8" font-size="6.3" text-anchor="end" fill="#222">26.0</text>
<line x1="448.0" y1="174.62" x2="449.7" y2="174.62" stroke="#5a5a5a" stroke-width="0.8"/>
<text x="446.7" y="176.2" font-size="6.3" text-anchor="end" fill="#222">22.0</text>
<line x1="448.0" y1="200.06" x2="449.7" y2="200.06" stroke="#5a5a5a" stroke-width="0.8"/>
<text x="446.7" y="201.7" font-size="6.3" text-anchor="end" fill="#222">18.0</text>
<line x1="448.0" y1="225.50" x2="449.7" y2="225.50" stroke="#5a5a5a" stroke-width="0.8"/>
<text x="446.7" y="227.1" font-size="6.3" text-anchor="end" fill="#222">14.0</text>
<line x1="448.0" y1="195.61" x2="449.7" y2="195.61" stroke="#5a5a5a" stroke-width="0.8"/>
<text x="446.7" y="197.2" font-size="6.3" text-anchor="end" fill="#222">18.7</text>
<line x1="449.70" y1="225.5" x2="449.70" y2="227.2" stroke="#5a5a5a" stroke-width="0.8"/>
<text x="449.7" y="233.6" font-size="6.3" text-anchor="middle" fill="#222">8</text>
<line x1="460.53" y1="225.5" x2="460.53" y2="227.2" stroke="#5a5a5a" stroke-width="0.8"/>
<text x="460.5" y="233.6" font-size="6.3" text-anchor="middle" fill="#222">10</text>
<line x1="471.36" y1="225.5" x2="471.36" y2="227.2" stroke="#5a5a5a" stroke-width="0.8"/>
<text x="471.4" y="233.6" font-size="6.3" text-anchor="middle" fill="#222">12</text>
<line x1="482.19" y1="225.5" x2="482.19" y2="227.2" stroke="#5a5a5a" stroke-width="0.8"/>
<text x="482.2" y="233.6" font-size="6.3" text-anchor="middle" fill="#222">14</text>
<line x1="493.01" y1="225.5" x2="493.01" y2="227.2" stroke="#5a5a5a" stroke-width="0.8"/>
<text x="493.0" y="233.6" font-size="6.3" text-anchor="middle" fill="#222">16</text>
<line x1="503.84" y1="225.5" x2="503.84" y2="227.2" stroke="#5a5a5a" stroke-width="0.8"/>
<text x="503.8" y="233.6" font-size="6.3" text-anchor="middle" fill="#222">18</text>
<line x1="514.67" y1="225.5" x2="514.67" y2="227.2" stroke="#5a5a5a" stroke-width="0.8"/>
<text x="514.7" y="233.6" font-size="6.3" text-anchor="middle" fill="#222">20</text>
<line x1="525.50" y1="225.5" x2="525.50" y2="227.2" stroke="#5a5a5a" stroke-width="0.8"/>
<text x="525.5" y="233.6" font-size="6.3" text-anchor="middle" fill="#222">22</text>
<text x="487.6" y="244.7" font-size="7.0" font-weight="bold" text-anchor="middle" fill="#111" stroke="#111" stroke-width="0.15">Cell Size (μm)</text>
<text transform="translate(430.8 174.7) rotate(-90)" font-size="6.9" font-weight="bold" text-anchor="middle" fill="#111" stroke="#111" stroke-width="0.15">Fpol (×10<tspan font-size="5" dy="-2.2">-2</tspan><tspan dy="2.2">)</tspan></text>
<text x="426.8" y="131.1" font-size="8.0" font-weight="bold" fill="#111" stroke="#111" stroke-width="0.2">J</text>
<g fill="#000">
<path d="M514.1 181.2L516.0 183.0L514.1 184.9L512.3 183.0Z"/>
<path d="M518.7 196.9L520.6 198.8L518.7 200.6L516.9 198.8Z"/>
<path d="M511.4 190.7L513.2 192.5L511.4 194.4L509.5 192.5Z"/>
<path d="M509.2 205.6L511.1 207.4L509.2 209.3L507.4 207.4Z"/>
<path d="M506.8 208.3L508.6 210.1L506.8 212.0L504.9 210.1Z"/>
<path d="M484.3 171.2L486.1 173.0L484.3 174.9L482.4 173.0Z"/>
<path d="M494.3 175.0L496.2 176.8L494.3 178.7L492.5 176.8Z"/>
<path d="M498.7 177.1L500.5 179.0L498.7 180.8L496.8 179.0Z"/>
<path d="M485.7 175.0L487.5 176.8L485.7 178.7L483.8 176.8Z"/>
<path d="M462.6 216.4L464.5 218.3L462.6 220.1L460.8 218.3Z"/>
<path d="M464.0 213.7L465.8 215.6L464.0 217.4L462.1 215.6Z"/>
<path d="M471.6 213.7L473.4 215.6L471.6 217.4L469.7 215.6Z"/>
<path d="M472.9 214.5L474.8 216.4L472.9 218.2L471.1 216.4Z"/>
<path d="M478.9 218.3L480.7 220.2L478.9 222.0L477.0 220.2Z"/>
<path d="M481.0 216.4L482.9 218.3L481.0 220.1L479.2 218.3Z"/>
<path d="M485.1 215.1L487.0 216.9L485.1 218.8L483.3 216.9Z"/>
<path d="M485.7 211.0L487.5 212.8L485.7 214.7L483.8 212.8Z"/>
<path d="M491.1 213.7L492.9 215.6L491.1 217.4L489.2 215.6Z"/>
<path d="M492.4 216.4L494.3 218.3L492.4 220.1L490.6 218.3Z"/>
<path d="M488.4 208.3L490.2 210.1L488.4 212.0L486.5 210.1Z"/>
<path d="M503.3 198.8L505.1 200.7L503.3 202.5L501.4 200.7Z"/>
<path d="M500.6 196.1L502.4 197.9L500.6 199.8L498.7 197.9Z"/>
<path d="M505.2 188.5L507.0 190.4L505.2 192.2L503.3 190.4Z"/>
<path d="M501.9 183.9L503.8 185.7L501.9 187.6L500.1 185.7Z"/>
<path d="M466.5 194.1L468.3 195.9L466.5 197.8L464.6 195.9Z"/>
<path d="M470.8 183.1L472.7 184.9L470.8 186.8L469.0 184.9Z"/>
<path d="M475.1 184.8L477.0 186.6L475.1 188.5L473.3 186.6Z"/>
<path d="M472.1 179.0L473.9 180.9L472.1 182.7L470.2 180.9Z"/>
<path d="M463.3 204.4L465.2 206.2L463.3 208.1L461.5 206.2Z"/>
<path d="M461.0 185.6L462.9 187.4L461.0 189.3L459.2 187.4Z"/>
<path d="M456.7 177.6L458.6 179.4L456.7 181.3L454.9 179.4Z"/>
<path d="M470.1 180.2L471.9 182.0L470.1 183.9L468.2 182.0Z"/>
<path d="M481.1 191.5L483.0 193.4L481.1 195.2L479.3 193.4Z"/>
<path d="M472.3 186.0L474.2 187.8L472.3 189.7L470.5 187.8Z"/>
<path d="M459.4 204.3L461.3 206.2L459.4 208.0L457.6 206.2Z"/>
<path d="M461.2 180.3L463.1 182.2L461.2 184.0L459.4 182.2Z"/>
<path d="M460.4 203.2L462.3 205.1L460.4 206.9L458.6 205.1Z"/>
<path d="M462.5 191.2L464.3 193.0L462.5 194.9L460.6 193.0Z"/>
<path d="M457.7 211.1L459.5 213.0L457.7 214.8L455.8 213.0Z"/>
<path d="M481.2 198.7L483.1 200.5L481.2 202.4L479.4 200.5Z"/>
<path d="M458.3 197.2L460.2 199.1L458.3 200.9L456.5 199.1Z"/>
<path d="M460.5 196.8L462.3 198.7L460.5 200.5L458.6 198.7Z"/>
<path d="M459.1 184.2L460.9 186.0L459.1 187.9L457.2 186.0Z"/>
<path d="M461.9 181.3L463.7 183.1L461.9 185.0L460.0 183.1Z"/>
<path d="M469.0 189.3L470.9 191.1L469.0 193.0L467.2 191.1Z"/>
<path d="M462.2 194.3L464.1 196.2L462.2 198.0L460.4 196.2Z"/>
<path d="M473.9 195.3L475.8 197.1L473.9 199.0L472.1 197.1Z"/>
<path d="M463.3 189.4L465.1 191.2L463.3 193.1L461.4 191.2Z"/>
<path d="M470.8 188.8L472.6 190.7L470.8 192.5L468.9 190.7Z"/>
<path d="M466.1 184.8L468.0 186.6L466.1 188.5L464.3 186.6Z"/>
<path d="M457.3 177.3L459.2 179.2L457.3 181.0L455.5 179.2Z"/>
<path d="M462.9 180.7L464.8 182.6L462.9 184.4L461.1 182.6Z"/>
<path d="M460.2 209.4L462.1 211.3L460.2 213.1L458.4 211.3Z"/>
<path d="M456.2 172.2L458.0 174.1L456.2 175.9L454.3 174.1Z"/>
<path d="M469.3 188.5L471.2 190.3L469.3 192.2L467.5 190.3Z"/>
<path d="M467.8 195.0L469.6 196.9L467.8 198.7L465.9 196.9Z"/>
<path d="M460.6 178.2L462.5 180.1L460.6 181.9L458.8 180.1Z"/>
<path d="M498.4 181.0L500.3 182.9L498.4 184.7L496.6 182.9Z"/>
<path d="M469.4 209.2L471.3 211.0L469.4 212.9L467.6 211.0Z"/>
<path d="M481.6 183.6L483.5 185.4L481.6 187.3L479.8 185.4Z"/>
<path d="M470.1 179.0L472.0 180.9L470.1 182.7L468.3 180.9Z"/>
<path d="M457.4 179.0L459.2 180.9L457.4 182.7L455.5 180.9Z"/>
<path d="M465.6 184.5L467.5 186.4L465.6 188.2L463.8 186.4Z"/>
<path d="M471.8 187.6L473.7 189.5L471.8 191.3L470.0 189.5Z"/>
<path d="M471.4 192.5L473.3 194.4L471.4 196.2L469.6 194.4Z"/>
<path d="M496.5 180.2L498.3 182.0L496.5 183.9L494.6 182.0Z"/>
<path d="M474.3 207.1L476.2 208.9L474.3 210.8L472.5 208.9Z"/>
<path d="M456.2 194.2L458.0 196.0L456.2 197.9L454.3 196.0Z"/>
<path d="M457.7 172.8L459.6 174.6L457.7 176.5L455.9 174.6Z"/>
<path d="M469.3 189.5L471.1 191.3L469.3 193.2L467.4 191.3Z"/>
<path d="M472.4 216.6L474.2 218.4L472.4 220.3L470.5 218.4Z"/>
<path d="M461.3 191.5L463.2 193.4L461.3 195.2L459.5 193.4Z"/>
<path d="M461.4 184.3L463.3 186.1L461.4 188.0L459.6 186.1Z"/>
<path d="M459.2 200.9L461.1 202.7L459.2 204.6L457.4 202.7Z"/>
<path d="M459.3 193.9L461.1 195.8L459.3 197.6L457.4 195.8Z"/>
<path d="M458.0 194.1L459.9 195.9L458.0 197.8L456.2 195.9Z"/>
<path d="M481.0 178.2L482.8 180.0L481.0 181.9L479.1 180.0Z"/>
<path d="M456.2 194.3L458.1 196.2L456.2 198.0L454.4 196.2Z"/>
<path d="M461.5 185.6L463.4 187.5L461.5 189.3L459.7 187.5Z"/>
<path d="M469.8 196.7L471.7 198.5L469.8 200.4L468.0 198.5Z"/>
<path d="M463.4 184.5L465.2 186.3L463.4 188.2L461.5 186.3Z"/>
<path d="M475.7 200.1L477.6 202.0L475.7 203.8L473.9 202.0Z"/>
<path d="M458.5 200.1L460.4 201.9L458.5 203.8L456.7 201.9Z"/>
<path d="M472.2 189.4L474.0 191.2L472.2 193.1L470.3 191.2Z"/>
<path d="M471.9 181.5L473.8 183.3L471.9 185.2L470.1 183.3Z"/>
<path d="M459.8 207.0L461.7 208.9L459.8 210.7L458.0 208.9Z"/>
<path d="M480.5 196.7L482.3 198.5L480.5 200.4L478.6 198.5Z"/>
<path d="M473.4 183.0L475.2 184.9L473.4 186.7L471.5 184.9Z"/>
<path d="M459.0 197.3L460.9 199.2L459.0 201.0L457.2 199.2Z"/>
<path d="M469.5 210.9L471.3 212.8L469.5 214.6L467.6 212.8Z"/>
<path d="M468.1 202.8L470.0 204.6L468.1 206.5L466.3 204.6Z"/>
<path d="M467.1 182.7L468.9 184.6L467.1 186.4L465.2 184.6Z"/>
<path d="M498.0 183.0L499.9 184.8L498.0 186.7L496.2 184.8Z"/>
<path d="M468.8 194.3L470.6 196.1L468.8 198.0L466.9 196.1Z"/>
<path d="M459.5 196.7L461.4 198.6L459.5 200.4L457.7 198.6Z"/>
<path d="M463.8 191.9L465.7 193.8L463.8 195.6L462.0 193.8Z"/>
<path d="M463.0 190.9L464.8 192.8L463.0 194.6L461.1 192.8Z"/>
<path d="M464.6 186.0L466.5 187.9L464.6 189.7L462.8 187.9Z"/>
<path d="M487.0 189.4L488.9 191.2L487.0 193.1L485.2 191.2Z"/>
<path d="M488.2 191.8L490.1 193.7L488.2 195.5L486.4 193.7Z"/>
<path d="M480.7 182.7L482.6 184.6L480.7 186.4L478.9 184.6Z"/>
<path d="M488.3 204.1L490.1 205.9L488.3 207.8L486.4 205.9Z"/>
<path d="M464.4 185.9L466.2 187.8L464.4 189.6L462.5 187.8Z"/>
<path d="M460.6 202.6L462.4 204.4L460.6 206.3L458.7 204.4Z"/>
<path d="M471.2 191.4L473.1 193.2L471.2 195.1L469.4 193.2Z"/>
<path d="M470.3 198.5L472.1 200.4L470.3 202.2L468.4 200.4Z"/>
<path d="M469.7 209.6L471.6 211.5L469.7 213.3L467.9 211.5Z"/>
<path d="M475.3 183.9L477.1 185.7L475.3 187.6L473.4 185.7Z"/>
<path d="M469.7 191.0L471.5 192.9L469.7 194.7L467.8 192.9Z"/>
<path d="M487.3 209.4L489.1 211.2L487.3 213.1L485.4 211.2Z"/>
<path d="M457.8 199.5L459.7 201.3L457.8 203.2L456.0 201.3Z"/>
<path d="M460.6 192.4L462.4 194.3L460.6 196.1L458.7 194.3Z"/>
<path d="M482.7 178.5L484.5 180.3L482.7 182.2L480.8 180.3Z"/>
<path d="M466.8 177.4L468.6 179.2L466.8 181.1L464.9 179.2Z"/>
<path d="M460.7 204.3L462.5 206.2L460.7 208.0L458.8 206.2Z"/>
<path d="M472.6 207.2L474.5 209.0L472.6 210.9L470.8 209.0Z"/>
<path d="M473.1 185.3L475.0 187.1L473.1 189.0L471.3 187.1Z"/>
<path d="M479.1 198.8L481.0 200.7L479.1 202.5L477.3 200.7Z"/>
<path d="M461.8 190.4L463.7 192.3L461.8 194.1L460.0 192.3Z"/>
<path d="M456.1 198.4L457.9 200.2L456.1 202.1L454.2 200.2Z"/>
<path d="M468.2 186.8L470.1 188.7L468.2 190.5L466.4 188.7Z"/>
<path d="M488.8 185.1L490.7 187.0L488.8 188.8L487.0 187.0Z"/>
<path d="M461.4 201.9L463.3 203.8L461.4 205.6L459.6 203.8Z"/>
<path d="M469.4 184.6L471.3 186.4L469.4 188.3L467.6 186.4Z"/>
<path d="M461.3 196.9L463.2 198.8L461.3 200.6L459.5 198.8Z"/>
<path d="M461.1 187.5L462.9 189.4L461.1 191.2L459.2 189.4Z"/>
<path d="M465.6 188.6L467.5 190.5L465.6 192.3L463.8 190.5Z"/>
<path d="M470.4 204.2L472.3 206.1L470.4 207.9L468.6 206.1Z"/>
<path d="M458.6 184.1L460.5 186.0L458.6 187.8L456.8 186.0Z"/>
<path d="M460.7 197.1L462.5 199.0L460.7 200.8L458.8 199.0Z"/>
<path d="M466.6 201.6L468.4 203.4L466.6 205.3L464.7 203.4Z"/>
<path d="M472.3 188.9L474.1 190.8L472.3 192.6L470.4 190.8Z"/>
<path d="M468.0 185.7L469.8 187.6L468.0 189.4L466.1 187.6Z"/>
<path d="M491.8 190.9L493.7 192.7L491.8 194.6L490.0 192.7Z"/>
<path d="M490.0 183.2L491.9 185.0L490.0 186.9L488.2 185.0Z"/>
<path d="M457.2 174.9L459.1 176.7L457.2 178.6L455.4 176.7Z"/>
<path d="M484.5 187.0L486.4 188.9L484.5 190.7L482.7 188.9Z"/>
<path d="M462.6 180.5L464.4 182.3L462.6 184.2L460.7 182.3Z"/>
<path d="M467.8 179.8L469.7 181.7L467.8 183.5L466.0 181.7Z"/>
<path d="M487.3 177.0L489.2 178.9L487.3 180.7L485.5 178.9Z"/>
<path d="M478.3 177.9L480.1 179.8L478.3 181.6L476.4 179.8Z"/>
<path d="M478.0 205.0L479.9 206.9L478.0 208.7L476.2 206.9Z"/>
<path d="M480.2 190.0L482.1 191.9L480.2 193.7L478.4 191.9Z"/>
<path d="M477.9 209.7L479.8 211.5L477.9 213.4L476.1 211.5Z"/>
<path d="M468.6 196.6L470.4 198.4L468.6 200.3L466.7 198.4Z"/>
<path d="M457.7 186.9L459.6 188.8L457.7 190.6L455.9 188.8Z"/>
<path d="M469.8 190.9L471.7 192.8L469.8 194.6L468.0 192.8Z"/>
<path d="M459.4 208.9L461.2 210.7L459.4 212.6L457.5 210.7Z"/>
<path d="M468.6 175.0L470.4 176.8L468.6 178.7L466.7 176.8Z"/>
<path d="M462.2 191.3L464.0 193.1L462.2 195.0L460.3 193.1Z"/>
<path d="M455.9 193.6L457.7 195.5L455.9 197.3L454.0 195.5Z"/>
<path d="M459.1 199.8L461.0 201.6L459.1 203.5L457.3 201.6Z"/>
<path d="M472.5 184.5L474.3 186.3L472.5 188.2L470.6 186.3Z"/>
<path d="M483.7 184.4L485.6 186.3L483.7 188.1L481.9 186.3Z"/>
<path d="M481.2 190.1L483.0 191.9L481.2 193.8L479.3 191.9Z"/>
<path d="M462.4 187.6L464.3 189.5L462.4 191.3L460.6 189.5Z"/>
<path d="M462.0 196.2L463.8 198.0L462.0 199.9L460.1 198.0Z"/>
<path d="M461.5 185.9L463.3 187.7L461.5 189.6L459.6 187.7Z"/>
<path d="M456.2 201.7L458.1 203.6L456.2 205.4L454.4 203.6Z"/>
<path d="M464.8 183.9L466.6 185.8L464.8 187.6L462.9 185.8Z"/>
<path d="M469.0 181.0L470.8 182.9L469.0 184.7L467.1 182.9Z"/>
<path d="M457.2 175.4L459.0 177.3L457.2 179.1L455.3 177.3Z"/>
<path d="M483.9 206.1L485.7 207.9L483.9 209.8L482.0 207.9Z"/>
<path d="M492.7 186.3L494.5 188.1L492.7 190.0L490.8 188.1Z"/>
<path d="M477.6 182.5L479.5 184.4L477.6 186.2L475.8 184.4Z"/>
<path d="M461.0 200.6L462.9 202.4L461.0 204.3L459.2 202.4Z"/>
<path d="M459.3 196.6L461.1 198.4L459.3 200.3L457.4 198.4Z"/>
<path d="M456.8 204.4L458.7 206.3L456.8 208.1L455.0 206.3Z"/>
<path d="M487.5 196.8L489.3 198.6L487.5 200.5L485.6 198.6Z"/>
<path d="M459.5 206.1L461.4 208.0L459.5 209.8L457.7 208.0Z"/>
<path d="M466.6 172.8L468.5 174.7L466.6 176.5L464.8 174.7Z"/>
<path d="M468.5 183.8L470.4 185.6L468.5 187.5L466.7 185.6Z"/>
<path d="M481.6 195.0L483.4 196.8L481.6 198.7L479.7 196.8Z"/>
<path d="M485.4 200.6L487.3 202.5L485.4 204.3L483.6 202.5Z"/>
<path d="M471.8 194.5L473.7 196.3L471.8 198.2L470.0 196.3Z"/>
<path d="M463.0 180.9L464.9 182.8L463.0 184.6L461.2 182.8Z"/>
<path d="M486.6 195.3L488.4 197.1L486.6 199.0L484.7 197.1Z"/>
<path d="M471.1 190.7L473.0 192.6L471.1 194.4L469.3 192.6Z"/>
<path d="M485.7 200.9L487.6 202.8L485.7 204.6L483.9 202.8Z"/>
<path d="M479.3 197.2L481.1 199.0L479.3 200.9L477.4 199.0Z"/>
<path d="M472.0 202.5L473.8 204.3L472.0 206.2L470.1 204.3Z"/>
<path d="M483.5 195.4L485.3 197.2L483.5 199.1L481.6 197.2Z"/>
<path d="M463.1 180.0L464.9 181.9L463.1 183.7L461.2 181.9Z"/>
<path d="M489.9 192.7L491.7 194.5L489.9 196.4L488.0 194.5Z"/>
<path d="M472.5 173.7L474.3 175.6L472.5 177.4L470.6 175.6Z"/>
<path d="M474.2 217.4L476.1 219.3L474.2 221.1L472.4 219.3Z"/>
<path d="M456.3 189.3L458.2 191.2L456.3 193.0L454.5 191.2Z"/>
<path d="M481.6 193.8L483.5 195.6L481.6 197.5L479.8 195.6Z"/>
<path d="M469.4 186.5L471.3 188.3L469.4 190.2L467.6 188.3Z"/>
<path d="M474.9 187.9L476.8 189.8L474.9 191.6L473.1 189.8Z"/>
<path d="M472.5 200.6L474.3 202.5L472.5 204.3L470.6 202.5Z"/>
<path d="M487.8 187.4L489.7 189.3L487.8 191.1L486.0 189.3Z"/>
<path d="M480.7 189.7L482.5 191.6L480.7 193.4L478.8 191.6Z"/>
<path d="M486.9 200.3L488.7 202.1L486.9 204.0L485.0 202.1Z"/>
<path d="M468.8 188.2L470.7 190.0L468.8 191.9L467.0 190.0Z"/>
<path d="M468.9 180.7L470.8 182.6L468.9 184.4L467.1 182.6Z"/>
<path d="M478.1 198.1L479.9 199.9L478.1 201.8L476.2 199.9Z"/>
<path d="M462.5 188.9L464.4 190.7L462.5 192.6L460.7 190.7Z"/>
<path d="M465.6 187.1L467.4 189.0L465.6 190.8L463.7 189.0Z"/>
<path d="M478.3 214.9L480.2 216.8L478.3 218.6L476.5 216.8Z"/>
<path d="M461.9 189.3L463.8 191.2L461.9 193.0L460.1 191.2Z"/>
<path d="M477.9 191.8L479.8 193.7L477.9 195.5L476.1 193.7Z"/>
<path d="M457.3 186.4L459.1 188.2L457.3 190.1L455.4 188.2Z"/>
<path d="M478.2 201.5L480.1 203.3L478.2 205.2L476.4 203.3Z"/>
<path d="M476.6 178.2L478.5 180.0L476.6 181.9L474.8 180.0Z"/>
<path d="M487.3 217.1L489.2 218.9L487.3 220.8L485.5 218.9Z"/>
<path d="M457.0 187.5L458.8 189.3L457.0 191.2L455.1 189.3Z"/>
<path d="M457.4 181.9L459.2 183.7L457.4 185.6L455.5 183.7Z"/>
<path d="M461.1 174.7L462.9 176.5L461.1 178.4L459.2 176.5Z"/>
<path d="M470.4 213.6L472.3 215.4L470.4 217.3L468.6 215.4Z"/>
<path d="M468.3 189.5L470.1 191.4L468.3 193.2L466.4 191.4Z"/>
<path d="M478.3 212.8L480.1 214.6L478.3 216.5L476.4 214.6Z"/>
<path d="M468.6 194.1L470.5 196.0L468.6 197.8L466.8 196.0Z"/>
<path d="M492.3 195.9L494.2 197.7L492.3 199.6L490.5 197.7Z"/>
<path d="M487.4 184.6L489.2 186.4L487.4 188.3L485.5 186.4Z"/>
<path d="M469.0 194.5L470.8 196.4L469.0 198.2L467.1 196.4Z"/>
<path d="M467.6 200.2L469.4 202.1L467.6 203.9L465.7 202.1Z"/>
<path d="M474.4 190.8L476.2 192.7L474.4 194.5L472.5 192.7Z"/>
<path d="M469.8 183.7L471.7 185.6L469.8 187.4L468.0 185.6Z"/>
<path d="M462.0 195.4L463.8 197.2L462.0 199.1L460.1 197.2Z"/>
<path d="M462.8 191.2L464.6 193.0L462.8 194.9L460.9 193.0Z"/>
<path d="M460.3 204.5L462.1 206.4L460.3 208.2L458.4 206.4Z"/>
<path d="M471.1 189.6L473.0 191.5L471.1 193.3L469.3 191.5Z"/>
<path d="M481.6 201.0L483.4 202.9L481.6 204.7L479.7 202.9Z"/>
<path d="M472.2 195.1L474.0 197.0L472.2 198.8L470.3 197.0Z"/>
<path d="M469.7 204.6L471.6 206.4L469.7 208.3L467.9 206.4Z"/>
<path d="M466.4 195.2L468.3 197.1L466.4 198.9L464.6 197.1Z"/>
<path d="M460.9 175.3L462.8 177.1L460.9 179.0L459.1 177.1Z"/>
<path d="M464.7 189.8L466.5 191.7L464.7 193.5L462.8 191.7Z"/>
<path d="M455.9 186.9L457.7 188.7L455.9 190.6L454.0 188.7Z"/>
<path d="M474.9 194.1L476.8 196.0L474.9 197.8L473.1 196.0Z"/>
<path d="M495.9 181.7L497.8 183.5L495.9 185.4L494.1 183.5Z"/>
<path d="M473.7 202.7L475.6 204.5L473.7 206.4L471.9 204.5Z"/>
<path d="M470.3 184.4L472.1 186.3L470.3 188.1L468.4 186.3Z"/>
<path d="M466.8 201.7L468.7 203.5L466.8 205.4L465.0 203.5Z"/>
<path d="M463.4 191.9L465.2 193.7L463.4 195.6L461.5 193.7Z"/>
<path d="M476.8 199.6L478.6 201.5L476.8 203.3L474.9 201.5Z"/>
<path d="M491.5 188.1L493.3 190.0L491.5 191.8L489.6 190.0Z"/>
<path d="M471.5 182.1L473.3 184.0L471.5 185.8L469.6 184.0Z"/>
<path d="M472.1 172.4L473.9 174.2L472.1 176.1L470.2 174.2Z"/>
<path d="M467.2 198.6L469.1 200.4L467.2 202.3L465.4 200.4Z"/>
<path d="M482.0 176.6L483.8 178.4L482.0 180.3L480.1 178.4Z"/>
<path d="M490.7 203.1L492.5 205.0L490.7 206.8L488.8 205.0Z"/>
<path d="M463.6 180.7L465.5 182.5L463.6 184.4L461.8 182.5Z"/>
<path d="M458.3 202.8L460.2 204.7L458.3 206.5L456.5 204.7Z"/>
<path d="M472.7 176.0L474.5 177.9L472.7 179.7L470.8 177.9Z"/>
<path d="M487.2 188.7L489.0 190.5L487.2 192.4L485.3 190.5Z"/>
<path d="M477.0 195.3L478.9 197.1L477.0 199.0L475.2 197.1Z"/>
<path d="M461.4 181.8L463.2 183.7L461.4 185.5L459.5 183.7Z"/>
<path d="M456.5 195.5L458.3 197.4L456.5 199.2L454.6 197.4Z"/>
<path d="M456.2 197.4L458.0 199.2L456.2 201.1L454.3 199.2Z"/>
<path d="M485.5 185.0L487.4 186.9L485.5 188.7L483.7 186.9Z"/>
<path d="M472.6 209.5L474.4 211.4L472.6 213.2L470.7 211.4Z"/>
<path d="M465.7 201.1L467.6 202.9L465.7 204.8L463.9 202.9Z"/>
<path d="M480.8 215.5L482.7 217.4L480.8 219.2L479.0 217.4Z"/>
<path d="M469.8 210.4L471.7 212.2L469.8 214.1L468.0 212.2Z"/>
<path d="M460.9 198.0L462.8 199.9L460.9 201.7L459.1 199.9Z"/>
<path d="M464.9 206.2L466.8 208.1L464.9 209.9L463.1 208.1Z"/>
<path d="M470.9 202.1L472.8 203.9L470.9 205.8L469.1 203.9Z"/>
<path d="M497.9 195.4L499.8 197.2L497.9 199.1L496.1 197.2Z"/>
<path d="M471.7 195.5L473.5 197.4L471.7 199.2L469.8 197.4Z"/>
<path d="M461.9 194.8L463.8 196.7L461.9 198.5L460.1 196.7Z"/>
<path d="M463.5 179.9L465.3 181.8L463.5 183.6L461.6 181.8Z"/>
<path d="M495.6 199.7L497.5 201.6L495.6 203.4L493.8 201.6Z"/>
<path d="M458.7 200.0L460.5 201.8L458.7 203.7L456.8 201.8Z"/>
<path d="M460.3 197.6L462.2 199.4L460.3 201.3L458.5 199.4Z"/>
<path d="M455.9 188.4L457.8 190.3L455.9 192.1L454.1 190.3Z"/>
<path d="M466.8 175.5L468.6 177.3L466.8 179.2L464.9 177.3Z"/>
<path d="M466.2 190.7L468.0 192.5L466.2 194.4L464.3 192.5Z"/>
<path d="M471.4 189.2L473.2 191.1L471.4 192.9L469.5 191.1Z"/>
<path d="M474.8 191.7L476.7 193.6L474.8 195.4L473.0 193.6Z"/>
<path d="M466.7 195.7L468.6 197.6L466.7 199.4L464.9 197.6Z"/>
<path d="M464.5 186.9L466.3 188.7L464.5 190.6L462.6 188.7Z"/>
<path d="M479.6 184.6L481.5 186.5L479.6 188.3L477.8 186.5Z"/>
</g>
<rect x="449.6" y="194.63" width="76.0" height="2.6" fill="#10a010"/>
<rect x="456.4" y="146.4" width="66.6" height="8.1" rx="0.8" fill="#fff" stroke="#555" stroke-width="0.7"/>
<g fill="#000">
<path d="M461.6 149.0L463.4 150.9L461.6 152.7L459.7 150.9Z"/>
</g>
<text x="466.0" y="152.8" font-size="6.3" font-weight="bold" fill="#111" stroke="#111" stroke-width="0.12">Normal (274 cells)</text>
</svg>
</body>
</html>
